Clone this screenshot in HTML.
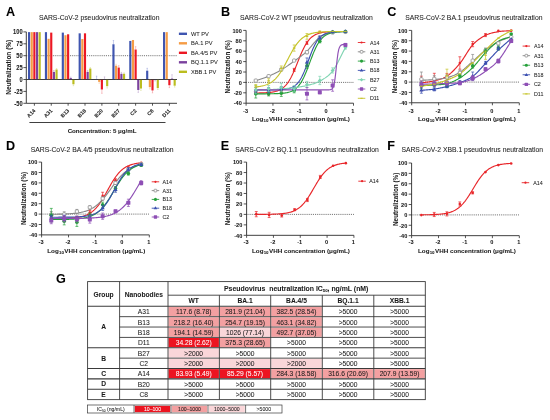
<!DOCTYPE html>
<html><head><meta charset="utf-8"><style>
html,body{margin:0;padding:0;background:#fff;width:550px;height:420px;overflow:hidden}
svg{display:block;filter:blur(0.4px)}
text{font-family:"Liberation Sans", sans-serif;stroke:#1a1a1a;stroke-width:0.05px}
text[font-weight="bold"]{stroke-width:0.05px}
text[fill="#fff"]{stroke:#fff}
text[fill="#000"]{stroke:#000}
</style></head><body>
<svg width="550" height="420" viewBox="0 0 550 420">
<rect width="550" height="420" fill="#fff"/>
<text x="6.00" y="16.40" font-size="12.6" text-anchor="start" font-weight="bold" fill="#000" >A</text>
<text x="220.90" y="16.30" font-size="12.6" text-anchor="start" font-weight="bold" fill="#000" >B</text>
<text x="387.20" y="16.40" font-size="12.6" text-anchor="start" font-weight="bold" fill="#000" >C</text>
<text x="5.90" y="149.50" font-size="12.6" text-anchor="start" font-weight="bold" fill="#000" >D</text>
<text x="220.80" y="149.50" font-size="12.6" text-anchor="start" font-weight="bold" fill="#000" >E</text>
<text x="387.30" y="149.50" font-size="12.6" text-anchor="start" font-weight="bold" fill="#000" >F</text>
<text x="56.00" y="282.60" font-size="12.6" text-anchor="start" font-weight="bold" fill="#000" >G</text>
<text x="38.90" y="19.60" font-size="6.8" text-anchor="start" font-weight="normal" fill="#1a1a1a" >SARS-CoV-2 pseudovirus neutralization</text>
<line x1="26.30" y1="31.90" x2="26.30" y2="103.30" stroke="#2a2a2a" stroke-width="0.9" />
<line x1="23.40" y1="31.90" x2="26.30" y2="31.90" stroke="#2a2a2a" stroke-width="0.8" />
<text transform="translate(22.60,34.15) scale(1,1.12)" font-size="5.7" text-anchor="end" font-weight="bold" fill="#1a1a1a" >100</text>
<line x1="23.40" y1="43.80" x2="26.30" y2="43.80" stroke="#2a2a2a" stroke-width="0.8" />
<text transform="translate(22.60,46.05) scale(1,1.12)" font-size="5.7" text-anchor="end" font-weight="bold" fill="#1a1a1a" >75</text>
<line x1="23.40" y1="55.70" x2="26.30" y2="55.70" stroke="#2a2a2a" stroke-width="0.8" />
<text transform="translate(22.60,57.95) scale(1,1.12)" font-size="5.7" text-anchor="end" font-weight="bold" fill="#1a1a1a" >50</text>
<line x1="23.40" y1="67.60" x2="26.30" y2="67.60" stroke="#2a2a2a" stroke-width="0.8" />
<text transform="translate(22.60,69.85) scale(1,1.12)" font-size="5.7" text-anchor="end" font-weight="bold" fill="#1a1a1a" >25</text>
<line x1="23.40" y1="79.50" x2="26.30" y2="79.50" stroke="#2a2a2a" stroke-width="0.8" />
<text transform="translate(22.60,81.75) scale(1,1.12)" font-size="5.7" text-anchor="end" font-weight="bold" fill="#1a1a1a" >0</text>
<line x1="23.40" y1="91.40" x2="26.30" y2="91.40" stroke="#2a2a2a" stroke-width="0.8" />
<text transform="translate(22.60,93.65) scale(1,1.12)" font-size="5.7" text-anchor="end" font-weight="bold" fill="#1a1a1a" >-25</text>
<line x1="23.40" y1="103.30" x2="26.30" y2="103.30" stroke="#2a2a2a" stroke-width="0.8" />
<text transform="translate(22.60,105.55) scale(1,1.12)" font-size="5.7" text-anchor="end" font-weight="bold" fill="#1a1a1a" >-50</text>
<line x1="26.30" y1="103.30" x2="177.00" y2="103.30" stroke="#2a2a2a" stroke-width="0.9" />
<line x1="26.30" y1="79.50" x2="177.00" y2="79.50" stroke="#2a2a2a" stroke-width="0.8" />
<line x1="26.30" y1="55.70" x2="177.00" y2="55.70" stroke="#333" stroke-width="0.75" stroke-dasharray="0.9 1.0"/>
<line x1="34.38" y1="103.30" x2="34.38" y2="105.70" stroke="#2a2a2a" stroke-width="0.8" />
<text transform="translate(35.88,111.10) rotate(-45)" font-size="5.3" font-weight="bold" text-anchor="end" fill="#1a1a1a">A14</text>
<rect x="28.00" y="32.14" width="2.15" height="47.36" fill="#3f55b0" />
<rect x="30.65" y="32.14" width="2.15" height="47.36" fill="#f59c45" />
<rect x="33.30" y="32.14" width="2.15" height="47.36" fill="#ec1823" />
<rect x="35.95" y="32.14" width="2.15" height="47.36" fill="#7b419e" />
<rect x="38.60" y="32.14" width="2.15" height="47.36" fill="#bbbd1f" />
<line x1="51.25" y1="103.30" x2="51.25" y2="105.70" stroke="#2a2a2a" stroke-width="0.8" />
<text transform="translate(52.75,111.10) rotate(-45)" font-size="5.3" font-weight="bold" text-anchor="end" fill="#1a1a1a">A31</text>
<rect x="44.88" y="32.14" width="2.15" height="47.36" fill="#3f55b0" />
<rect x="47.52" y="38.80" width="2.15" height="40.70" fill="#f59c45" />
<rect x="50.17" y="32.61" width="2.15" height="46.89" fill="#ec1823" />
<line x1="53.90" y1="71.88" x2="53.90" y2="70.46" stroke="#b79ac9" stroke-width="0.5" />
<line x1="53.20" y1="70.46" x2="54.60" y2="70.46" stroke="#b79ac9" stroke-width="0.5" />
<rect x="52.83" y="71.88" width="2.15" height="7.62" fill="#7b419e" />
<line x1="56.55" y1="69.50" x2="56.55" y2="68.55" stroke="#d6da8e" stroke-width="0.5" />
<line x1="55.85" y1="68.55" x2="57.25" y2="68.55" stroke="#d6da8e" stroke-width="0.5" />
<rect x="55.48" y="69.50" width="2.15" height="10.00" fill="#bbbd1f" />
<line x1="68.12" y1="103.30" x2="68.12" y2="105.70" stroke="#2a2a2a" stroke-width="0.8" />
<text transform="translate(69.62,111.10) rotate(-45)" font-size="5.3" font-weight="bold" text-anchor="end" fill="#1a1a1a">B13</text>
<rect x="61.75" y="32.61" width="2.15" height="46.89" fill="#3f55b0" />
<rect x="64.40" y="35.23" width="2.15" height="44.27" fill="#f59c45" />
<rect x="67.05" y="34.28" width="2.15" height="45.22" fill="#ec1823" />
<line x1="70.78" y1="78.07" x2="70.78" y2="77.12" stroke="#b79ac9" stroke-width="0.5" />
<line x1="70.08" y1="77.12" x2="71.48" y2="77.12" stroke="#b79ac9" stroke-width="0.5" />
<rect x="69.70" y="78.07" width="2.15" height="1.43" fill="#7b419e" />
<line x1="73.42" y1="84.26" x2="73.42" y2="85.69" stroke="#d6da8e" stroke-width="0.5" />
<line x1="72.72" y1="85.69" x2="74.12" y2="85.69" stroke="#d6da8e" stroke-width="0.5" />
<rect x="72.35" y="79.50" width="2.15" height="4.76" fill="#bbbd1f" />
<line x1="85.00" y1="103.30" x2="85.00" y2="105.70" stroke="#2a2a2a" stroke-width="0.8" />
<text transform="translate(86.50,111.10) rotate(-45)" font-size="5.3" font-weight="bold" text-anchor="end" fill="#1a1a1a">B18</text>
<rect x="78.62" y="33.33" width="2.15" height="46.17" fill="#3f55b0" />
<rect x="81.28" y="39.04" width="2.15" height="40.46" fill="#f59c45" />
<rect x="83.92" y="33.33" width="2.15" height="46.17" fill="#ec1823" />
<line x1="87.65" y1="71.88" x2="87.65" y2="70.46" stroke="#b79ac9" stroke-width="0.5" />
<line x1="86.95" y1="70.46" x2="88.35" y2="70.46" stroke="#b79ac9" stroke-width="0.5" />
<rect x="86.58" y="71.88" width="2.15" height="7.62" fill="#7b419e" />
<line x1="90.30" y1="68.55" x2="90.30" y2="67.60" stroke="#d6da8e" stroke-width="0.5" />
<line x1="89.60" y1="67.60" x2="91.00" y2="67.60" stroke="#d6da8e" stroke-width="0.5" />
<rect x="89.22" y="68.55" width="2.15" height="10.95" fill="#bbbd1f" />
<line x1="101.88" y1="103.30" x2="101.88" y2="105.70" stroke="#2a2a2a" stroke-width="0.8" />
<text transform="translate(103.38,111.10) rotate(-45)" font-size="5.3" font-weight="bold" text-anchor="end" fill="#1a1a1a">B20</text>
<line x1="96.58" y1="79.02" x2="96.58" y2="76.17" stroke="#8f9bd6" stroke-width="0.5" />
<line x1="95.88" y1="76.17" x2="97.28" y2="76.17" stroke="#8f9bd6" stroke-width="0.5" />
<rect x="95.50" y="79.02" width="2.15" height="0.48" fill="#3f55b0" />
<line x1="99.23" y1="81.88" x2="99.23" y2="83.31" stroke="#f8c89a" stroke-width="0.5" />
<line x1="98.53" y1="83.31" x2="99.93" y2="83.31" stroke="#f8c89a" stroke-width="0.5" />
<rect x="98.15" y="79.50" width="2.15" height="2.38" fill="#f59c45" />
<line x1="101.88" y1="89.50" x2="101.88" y2="93.30" stroke="#f08a90" stroke-width="0.5" />
<line x1="101.17" y1="93.30" x2="102.58" y2="93.30" stroke="#f08a90" stroke-width="0.5" />
<rect x="100.80" y="79.50" width="2.15" height="10.00" fill="#ec1823" />
<line x1="104.53" y1="79.26" x2="104.53" y2="76.88" stroke="#b79ac9" stroke-width="0.5" />
<line x1="103.83" y1="76.88" x2="105.23" y2="76.88" stroke="#b79ac9" stroke-width="0.5" />
<rect x="103.45" y="79.26" width="2.15" height="0.24" fill="#7b419e" />
<line x1="107.17" y1="86.16" x2="107.17" y2="88.07" stroke="#d6da8e" stroke-width="0.5" />
<line x1="106.47" y1="88.07" x2="107.88" y2="88.07" stroke="#d6da8e" stroke-width="0.5" />
<rect x="106.10" y="79.50" width="2.15" height="6.66" fill="#bbbd1f" />
<line x1="118.75" y1="103.30" x2="118.75" y2="105.70" stroke="#2a2a2a" stroke-width="0.8" />
<text transform="translate(120.25,111.10) rotate(-45)" font-size="5.3" font-weight="bold" text-anchor="end" fill="#1a1a1a">B27</text>
<line x1="113.45" y1="44.28" x2="113.45" y2="40.47" stroke="#8f9bd6" stroke-width="0.5" />
<line x1="112.75" y1="40.47" x2="114.15" y2="40.47" stroke="#8f9bd6" stroke-width="0.5" />
<rect x="112.38" y="44.28" width="2.15" height="35.22" fill="#3f55b0" />
<line x1="116.10" y1="65.70" x2="116.10" y2="64.27" stroke="#f8c89a" stroke-width="0.5" />
<line x1="115.40" y1="64.27" x2="116.80" y2="64.27" stroke="#f8c89a" stroke-width="0.5" />
<rect x="115.03" y="65.70" width="2.15" height="13.80" fill="#f59c45" />
<line x1="118.75" y1="67.60" x2="118.75" y2="65.70" stroke="#f08a90" stroke-width="0.5" />
<line x1="118.05" y1="65.70" x2="119.45" y2="65.70" stroke="#f08a90" stroke-width="0.5" />
<rect x="117.67" y="67.60" width="2.15" height="11.90" fill="#ec1823" />
<line x1="121.40" y1="73.79" x2="121.40" y2="72.36" stroke="#b79ac9" stroke-width="0.5" />
<line x1="120.70" y1="72.36" x2="122.10" y2="72.36" stroke="#b79ac9" stroke-width="0.5" />
<rect x="120.33" y="73.79" width="2.15" height="5.71" fill="#7b419e" />
<line x1="124.05" y1="73.79" x2="124.05" y2="72.84" stroke="#d6da8e" stroke-width="0.5" />
<line x1="123.35" y1="72.84" x2="124.75" y2="72.84" stroke="#d6da8e" stroke-width="0.5" />
<rect x="122.97" y="73.79" width="2.15" height="5.71" fill="#bbbd1f" />
<line x1="135.62" y1="103.30" x2="135.62" y2="105.70" stroke="#2a2a2a" stroke-width="0.8" />
<text transform="translate(137.12,111.10) rotate(-45)" font-size="5.3" font-weight="bold" text-anchor="end" fill="#1a1a1a">C2</text>
<rect x="129.25" y="40.94" width="2.15" height="38.56" fill="#3f55b0" />
<rect x="131.90" y="39.99" width="2.15" height="39.51" fill="#f59c45" />
<line x1="135.62" y1="49.51" x2="135.62" y2="46.66" stroke="#f08a90" stroke-width="0.5" />
<line x1="134.93" y1="46.66" x2="136.32" y2="46.66" stroke="#f08a90" stroke-width="0.5" />
<rect x="134.55" y="49.51" width="2.15" height="29.99" fill="#ec1823" />
<line x1="138.27" y1="89.97" x2="138.27" y2="92.35" stroke="#b79ac9" stroke-width="0.5" />
<line x1="137.57" y1="92.35" x2="138.97" y2="92.35" stroke="#b79ac9" stroke-width="0.5" />
<rect x="137.20" y="79.50" width="2.15" height="10.47" fill="#7b419e" />
<line x1="140.92" y1="88.54" x2="140.92" y2="90.45" stroke="#d6da8e" stroke-width="0.5" />
<line x1="140.22" y1="90.45" x2="141.62" y2="90.45" stroke="#d6da8e" stroke-width="0.5" />
<rect x="139.85" y="79.50" width="2.15" height="9.04" fill="#bbbd1f" />
<line x1="152.50" y1="103.30" x2="152.50" y2="105.70" stroke="#2a2a2a" stroke-width="0.8" />
<text transform="translate(154.00,111.10) rotate(-45)" font-size="5.3" font-weight="bold" text-anchor="end" fill="#1a1a1a">C8</text>
<line x1="147.20" y1="70.69" x2="147.20" y2="68.31" stroke="#8f9bd6" stroke-width="0.5" />
<line x1="146.50" y1="68.31" x2="147.90" y2="68.31" stroke="#8f9bd6" stroke-width="0.5" />
<rect x="146.12" y="70.69" width="2.15" height="8.81" fill="#3f55b0" />
<line x1="149.85" y1="87.12" x2="149.85" y2="89.02" stroke="#f8c89a" stroke-width="0.5" />
<line x1="149.15" y1="89.02" x2="150.55" y2="89.02" stroke="#f8c89a" stroke-width="0.5" />
<rect x="148.78" y="79.50" width="2.15" height="7.62" fill="#f59c45" />
<line x1="152.50" y1="90.45" x2="152.50" y2="92.83" stroke="#f08a90" stroke-width="0.5" />
<line x1="151.80" y1="92.83" x2="153.20" y2="92.83" stroke="#f08a90" stroke-width="0.5" />
<rect x="151.43" y="79.50" width="2.15" height="10.95" fill="#ec1823" />
<line x1="155.15" y1="79.98" x2="155.15" y2="80.93" stroke="#b79ac9" stroke-width="0.5" />
<line x1="154.45" y1="80.93" x2="155.85" y2="80.93" stroke="#b79ac9" stroke-width="0.5" />
<rect x="154.07" y="79.50" width="2.15" height="0.48" fill="#7b419e" />
<line x1="157.80" y1="88.07" x2="157.80" y2="89.50" stroke="#d6da8e" stroke-width="0.5" />
<line x1="157.10" y1="89.50" x2="158.50" y2="89.50" stroke="#d6da8e" stroke-width="0.5" />
<rect x="156.72" y="79.50" width="2.15" height="8.57" fill="#bbbd1f" />
<line x1="169.38" y1="103.30" x2="169.38" y2="105.70" stroke="#2a2a2a" stroke-width="0.8" />
<text transform="translate(170.88,111.10) rotate(-45)" font-size="5.3" font-weight="bold" text-anchor="end" fill="#1a1a1a">D11</text>
<rect x="163.00" y="32.14" width="2.15" height="47.36" fill="#3f55b0" />
<rect x="165.65" y="32.14" width="2.15" height="47.36" fill="#f59c45" />
<line x1="169.38" y1="85.21" x2="169.38" y2="87.59" stroke="#f08a90" stroke-width="0.5" />
<line x1="168.68" y1="87.59" x2="170.07" y2="87.59" stroke="#f08a90" stroke-width="0.5" />
<rect x="168.30" y="79.50" width="2.15" height="5.71" fill="#ec1823" />
<line x1="172.02" y1="78.55" x2="172.02" y2="74.74" stroke="#b79ac9" stroke-width="0.5" />
<line x1="171.32" y1="74.74" x2="172.72" y2="74.74" stroke="#b79ac9" stroke-width="0.5" />
<rect x="170.95" y="78.55" width="2.15" height="0.95" fill="#7b419e" />
<line x1="174.67" y1="85.69" x2="174.67" y2="87.12" stroke="#d6da8e" stroke-width="0.5" />
<line x1="173.97" y1="87.12" x2="175.37" y2="87.12" stroke="#d6da8e" stroke-width="0.5" />
<rect x="173.60" y="79.50" width="2.15" height="6.19" fill="#bbbd1f" />
<line x1="26.30" y1="79.50" x2="177.00" y2="79.50" stroke="#333" stroke-width="0.7" />
<line x1="29.40" y1="122.50" x2="165.50" y2="122.50" stroke="#2a2a2a" stroke-width="0.9" />
<text x="67.70" y="132.60" font-size="6.13" text-anchor="start" font-weight="bold" fill="#1a1a1a" >Concentration: 5 μg/mL</text>
<text transform="translate(11.3,67.2) rotate(-90)" font-size="6.5" font-weight="bold" text-anchor="middle" fill="#1a1a1a">Neutralization (%)</text>
<rect x="178.90" y="32.60" width="8.10" height="2.40" fill="#3f55b0" />
<text x="191.00" y="35.80" font-size="5.7" text-anchor="start" font-weight="normal" fill="#1a1a1a" >WT PV</text>
<rect x="178.90" y="42.10" width="8.10" height="2.40" fill="#f59c45" />
<text x="191.00" y="45.30" font-size="5.7" text-anchor="start" font-weight="normal" fill="#1a1a1a" >BA.1 PV</text>
<rect x="178.90" y="51.60" width="8.10" height="2.40" fill="#ec1823" />
<text x="191.00" y="54.80" font-size="5.7" text-anchor="start" font-weight="normal" fill="#1a1a1a" >BA.4/5 PV</text>
<rect x="178.90" y="61.10" width="8.10" height="2.40" fill="#7b419e" />
<text x="191.00" y="64.30" font-size="5.7" text-anchor="start" font-weight="normal" fill="#1a1a1a" >BQ.1.1 PV</text>
<rect x="178.90" y="70.60" width="8.10" height="2.40" fill="#bbbd1f" />
<text x="191.00" y="73.80" font-size="5.7" text-anchor="start" font-weight="normal" fill="#1a1a1a" >XBB.1 PV</text>
<text x="240.00" y="19.70" font-size="6.8" text-anchor="start" font-weight="normal" fill="#1a1a1a" >SARS-CoV-2 WT pseudovirus neutralization</text>
<line x1="246.10" y1="30.40" x2="246.10" y2="103.20" stroke="#2a2a2a" stroke-width="0.9" />
<line x1="243.20" y1="30.40" x2="246.10" y2="30.40" stroke="#2a2a2a" stroke-width="0.8" />
<text transform="translate(241.80,32.65) scale(1,1.12)" font-size="5.6" text-anchor="end" font-weight="bold" fill="#1a1a1a" >100</text>
<line x1="243.20" y1="40.80" x2="246.10" y2="40.80" stroke="#2a2a2a" stroke-width="0.8" />
<text transform="translate(241.80,43.05) scale(1,1.12)" font-size="5.6" text-anchor="end" font-weight="bold" fill="#1a1a1a" >80</text>
<line x1="243.20" y1="51.20" x2="246.10" y2="51.20" stroke="#2a2a2a" stroke-width="0.8" />
<text transform="translate(241.80,53.45) scale(1,1.12)" font-size="5.6" text-anchor="end" font-weight="bold" fill="#1a1a1a" >60</text>
<line x1="243.20" y1="61.60" x2="246.10" y2="61.60" stroke="#2a2a2a" stroke-width="0.8" />
<text transform="translate(241.80,63.85) scale(1,1.12)" font-size="5.6" text-anchor="end" font-weight="bold" fill="#1a1a1a" >40</text>
<line x1="243.20" y1="72.00" x2="246.10" y2="72.00" stroke="#2a2a2a" stroke-width="0.8" />
<text transform="translate(241.80,74.25) scale(1,1.12)" font-size="5.6" text-anchor="end" font-weight="bold" fill="#1a1a1a" >20</text>
<line x1="243.20" y1="82.40" x2="246.10" y2="82.40" stroke="#2a2a2a" stroke-width="0.8" />
<text transform="translate(241.80,84.65) scale(1,1.12)" font-size="5.6" text-anchor="end" font-weight="bold" fill="#1a1a1a" >0</text>
<line x1="243.20" y1="92.80" x2="246.10" y2="92.80" stroke="#2a2a2a" stroke-width="0.8" />
<text transform="translate(241.80,95.05) scale(1,1.12)" font-size="5.6" text-anchor="end" font-weight="bold" fill="#1a1a1a" >-20</text>
<line x1="243.20" y1="103.20" x2="246.10" y2="103.20" stroke="#2a2a2a" stroke-width="0.8" />
<text transform="translate(241.80,105.45) scale(1,1.12)" font-size="5.6" text-anchor="end" font-weight="bold" fill="#1a1a1a" >-40</text>
<line x1="246.10" y1="103.20" x2="353.50" y2="103.20" stroke="#2a2a2a" stroke-width="0.9" />
<line x1="246.10" y1="103.20" x2="246.10" y2="105.70" stroke="#2a2a2a" stroke-width="0.8" />
<text transform="translate(245.50,112.50) scale(1,1.12)" font-size="5.6" text-anchor="middle" font-weight="bold" fill="#1a1a1a" >-3</text>
<line x1="272.95" y1="103.20" x2="272.95" y2="105.70" stroke="#2a2a2a" stroke-width="0.8" />
<text transform="translate(272.35,112.50) scale(1,1.12)" font-size="5.6" text-anchor="middle" font-weight="bold" fill="#1a1a1a" >-2</text>
<line x1="299.80" y1="103.20" x2="299.80" y2="105.70" stroke="#2a2a2a" stroke-width="0.8" />
<text transform="translate(299.20,112.50) scale(1,1.12)" font-size="5.6" text-anchor="middle" font-weight="bold" fill="#1a1a1a" >-1</text>
<line x1="326.65" y1="103.20" x2="326.65" y2="105.70" stroke="#2a2a2a" stroke-width="0.8" />
<text transform="translate(326.05,112.50) scale(1,1.12)" font-size="5.6" text-anchor="middle" font-weight="bold" fill="#1a1a1a" >0</text>
<line x1="353.50" y1="103.20" x2="353.50" y2="105.70" stroke="#2a2a2a" stroke-width="0.8" />
<text transform="translate(352.90,112.50) scale(1,1.12)" font-size="5.6" text-anchor="middle" font-weight="bold" fill="#1a1a1a" >1</text>
<line x1="246.10" y1="82.40" x2="353.50" y2="82.40" stroke="#333" stroke-width="0.75" stroke-dasharray="0.9 1.0"/>
<text transform="translate(230.00,66.80) rotate(-90)" font-size="6.3" font-weight="bold" text-anchor="middle" fill="#1a1a1a">Neutralization (%)</text>
<text x="251.90" y="121.30" font-size="6.25" font-weight="bold" fill="#1a1a1a">Log<tspan font-size="4.4" dx="0.2" dy="0.9">10</tspan><tspan dx="0.5" dy="-0.9">VHH concentration (μg/mL)</tspan></text>
<polyline points="255.77,92.99 256.51,92.98 257.26,92.97 258.01,92.96 258.75,92.95 259.50,92.94 260.25,92.92 261.00,92.90 261.74,92.88 262.49,92.86 263.24,92.83 263.98,92.81 264.73,92.77 265.48,92.74 266.23,92.69 266.97,92.65 267.72,92.59 268.47,92.53 269.21,92.47 269.96,92.39 270.71,92.31 271.46,92.21 272.20,92.10 272.95,91.98 273.70,91.84 274.44,91.69 275.19,91.51 275.94,91.32 276.68,91.10 277.43,90.86 278.18,90.58 278.93,90.28 279.67,89.93 280.42,89.55 281.17,89.13 281.91,88.66 282.66,88.13 283.41,87.55 284.16,86.91 284.90,86.20 285.65,85.42 286.40,84.57 287.14,83.64 287.89,82.63 288.64,81.53 289.39,80.34 290.13,79.07 290.88,77.71 291.63,76.27 292.37,74.74 293.12,73.13 293.87,71.46 294.62,69.72 295.36,67.93 296.11,66.10 296.86,64.24 297.60,62.37 298.35,60.50 299.10,58.64 299.84,56.80 300.59,55.01 301.34,53.26 302.09,51.58 302.83,49.97 303.58,48.43 304.33,46.97 305.07,45.60 305.82,44.32 306.57,43.12 307.32,42.01 308.06,40.99 308.81,40.05 309.56,39.18 310.30,38.40 311.05,37.68 311.80,37.03 312.55,36.44 313.29,35.91 314.04,35.43 314.79,35.00 315.53,34.61 316.28,34.27 317.03,33.95 317.78,33.68 318.52,33.43 319.27,33.21 320.02,33.01 320.76,32.83 321.51,32.68 322.26,32.54 323.01,32.41 323.75,32.30 324.50,32.21 325.25,32.12 325.99,32.04 326.74,31.97 327.49,31.91 328.23,31.86 328.98,31.81 329.73,31.77 330.48,31.73 331.22,31.70 331.97,31.67 332.72,31.64 333.46,31.62 334.21,31.60 334.96,31.58 335.71,31.56 336.45,31.55 337.20,31.54 337.95,31.53 338.69,31.52 339.44,31.51 340.19,31.50 340.94,31.49 341.68,31.49 342.43,31.48 343.18,31.48 343.92,31.47 344.67,31.47 345.42,31.47" fill="none" stroke="#e8262a" stroke-width="1.15"/>
<polyline points="255.77,80.84 256.51,80.57 257.26,80.31 258.01,80.05 258.75,79.79 259.50,79.53 260.25,79.28 261.00,79.02 261.74,78.77 262.49,78.51 263.24,78.25 263.98,77.98 264.73,77.71 265.48,77.43 266.23,77.15 266.97,76.85 267.72,76.55 268.47,76.24 269.21,75.92 269.96,75.59 270.71,75.27 271.46,74.93 272.20,74.59 272.95,74.25 273.70,73.90 274.44,73.55 275.19,73.18 275.94,72.81 276.68,72.44 277.43,72.05 278.18,71.66 278.93,71.25 279.67,70.84 280.42,70.42 281.17,69.98 281.91,69.54 282.66,69.08 283.41,68.61 284.16,68.13 284.90,67.64 285.65,67.14 286.40,66.64 287.14,66.12 287.89,65.60 288.64,65.07 289.39,64.54 290.13,64.01 290.88,63.47 291.63,62.93 292.37,62.38 293.12,61.84 293.87,61.29 294.62,60.75 295.36,60.22 296.11,59.69 296.86,59.16 297.60,58.64 298.35,58.11 299.10,57.58 299.84,57.05 300.59,56.50 301.34,55.95 302.09,55.38 302.83,54.80 303.58,54.20 304.33,53.58 305.07,52.94 305.82,52.28 306.57,51.58 307.32,50.86 308.06,50.07 308.81,49.24 309.56,48.36 310.30,47.46 311.05,46.54 311.80,45.61 312.55,44.70 313.29,43.80 314.04,42.94 314.79,42.12 315.53,41.31 316.28,40.50 317.03,39.70 317.78,38.94 318.52,38.23 319.27,37.58 320.02,37.00 320.76,36.50 321.51,36.04 322.26,35.63 323.01,35.26 323.75,34.92 324.50,34.61 325.25,34.31 325.99,34.03 326.74,33.75 327.49,33.48 328.23,33.24 328.98,33.01 329.73,32.81 330.48,32.63 331.22,32.47 331.97,32.33 332.72,32.20 333.46,32.09 334.21,32.00 334.96,31.92 335.71,31.85 336.45,31.80 337.20,31.75 337.95,31.71 338.69,31.68 339.44,31.65 340.19,31.63 340.94,31.61 341.68,31.59 342.43,31.57 343.18,31.54 343.92,31.52 344.67,31.48 345.42,31.44" fill="none" stroke="#8a8a8a" stroke-width="1.15"/>
<polyline points="255.77,93.83 256.51,93.83 257.26,93.83 258.01,93.83 258.75,93.83 259.50,93.83 260.25,93.83 261.00,93.83 261.74,93.82 262.49,93.82 263.24,93.82 263.98,93.82 264.73,93.81 265.48,93.81 266.23,93.80 266.97,93.80 267.72,93.79 268.47,93.79 269.21,93.78 269.96,93.77 270.71,93.76 271.46,93.75 272.20,93.74 272.95,93.73 273.70,93.71 274.44,93.69 275.19,93.67 275.94,93.65 276.68,93.63 277.43,93.60 278.18,93.56 278.93,93.53 279.67,93.48 280.42,93.43 281.17,93.38 281.91,93.32 282.66,93.25 283.41,93.16 284.16,93.07 284.90,92.97 285.65,92.85 286.40,92.72 287.14,92.57 287.89,92.40 288.64,92.21 289.39,91.99 290.13,91.75 290.88,91.47 291.63,91.16 292.37,90.82 293.12,90.43 293.87,89.99 294.62,89.50 295.36,88.95 296.11,88.34 296.86,87.66 297.60,86.91 298.35,86.08 299.10,85.17 299.84,84.17 300.59,83.08 301.34,81.89 302.09,80.60 302.83,79.21 303.58,77.73 304.33,76.15 305.07,74.48 305.82,72.73 306.57,70.91 307.32,69.02 308.06,67.08 308.81,65.11 309.56,63.11 310.30,61.12 311.05,59.13 311.80,57.17 312.55,55.26 313.29,53.40 314.04,51.62 314.79,49.91 315.53,48.29 316.28,46.76 317.03,45.33 317.78,43.99 318.52,42.76 319.27,41.62 320.02,40.57 320.76,39.62 321.51,38.75 322.26,37.96 323.01,37.25 323.75,36.61 324.50,36.03 325.25,35.52 325.99,35.06 326.74,34.64 327.49,34.28 328.23,33.95 328.98,33.66 329.73,33.40 330.48,33.17 331.22,32.97 331.97,32.79 332.72,32.63 333.46,32.49 334.21,32.36 334.96,32.25 335.71,32.16 336.45,32.07 337.20,32.00 337.95,31.93 338.69,31.87 339.44,31.82 340.19,31.77 340.94,31.73 341.68,31.70 342.43,31.67 343.18,31.64 343.92,31.62 344.67,31.60 345.42,31.58" fill="none" stroke="#25a03a" stroke-width="1.15"/>
<polyline points="255.77,89.94 256.51,89.94 257.26,89.94 258.01,89.94 258.75,89.93 259.50,89.93 260.25,89.93 261.00,89.93 261.74,89.93 262.49,89.93 263.24,89.93 263.98,89.93 264.73,89.92 265.48,89.92 266.23,89.92 266.97,89.92 267.72,89.91 268.47,89.91 269.21,89.90 269.96,89.90 270.71,89.89 271.46,89.89 272.20,89.88 272.95,89.87 273.70,89.86 274.44,89.84 275.19,89.83 275.94,89.81 276.68,89.79 277.43,89.77 278.18,89.74 278.93,89.72 279.67,89.68 280.42,89.64 281.17,89.60 281.91,89.55 282.66,89.49 283.41,89.42 284.16,89.34 284.90,89.25 285.65,89.15 286.40,89.03 287.14,88.90 287.89,88.74 288.64,88.57 289.39,88.36 290.13,88.13 290.88,87.87 291.63,87.57 292.37,87.22 293.12,86.83 293.87,86.39 294.62,85.89 295.36,85.33 296.11,84.69 296.86,83.98 297.60,83.18 298.35,82.29 299.10,81.30 299.84,80.22 300.59,79.02 301.34,77.71 302.09,76.29 302.83,74.76 303.58,73.12 304.33,71.39 305.07,69.56 305.82,67.65 306.57,65.67 307.32,63.65 308.06,61.60 308.81,59.54 309.56,57.49 310.30,55.47 311.05,53.50 311.80,51.60 312.55,49.78 313.29,48.06 314.04,46.43 314.79,44.91 315.53,43.51 316.28,42.21 317.03,41.03 317.78,39.95 318.52,38.98 319.27,38.10 320.02,37.31 320.76,36.61 321.51,35.98 322.26,35.42 323.01,34.93 323.75,34.50 324.50,34.11 325.25,33.78 325.99,33.48 326.74,33.22 327.49,32.99 328.23,32.79 328.98,32.62 329.73,32.47 330.48,32.33 331.22,32.22 331.97,32.12 332.72,32.03 333.46,31.95 334.21,31.88 334.96,31.83 335.71,31.78 336.45,31.73 337.20,31.69 337.95,31.66 338.69,31.63 339.44,31.61 340.19,31.58 340.94,31.57 341.68,31.55 342.43,31.53 343.18,31.52 343.92,31.51 344.67,31.50 345.42,31.49" fill="none" stroke="#3a4fb0" stroke-width="1.15"/>
<polyline points="255.77,90.20 256.51,90.17 257.26,90.14 258.01,90.11 258.75,90.09 259.50,90.06 260.25,90.03 261.00,90.00 261.74,89.97 262.49,89.95 263.24,89.92 263.98,89.89 264.73,89.86 265.48,89.83 266.23,89.80 266.97,89.76 267.72,89.73 268.47,89.69 269.21,89.65 269.96,89.61 270.71,89.57 271.46,89.53 272.20,89.49 272.95,89.45 273.70,89.41 274.44,89.37 275.19,89.32 275.94,89.28 276.68,89.23 277.43,89.18 278.18,89.13 278.93,89.08 279.67,89.02 280.42,88.97 281.17,88.91 281.91,88.85 282.66,88.79 283.41,88.72 284.16,88.66 284.90,88.59 285.65,88.53 286.40,88.46 287.14,88.39 287.89,88.31 288.64,88.24 289.39,88.16 290.13,88.08 290.88,88.00 291.63,87.91 292.37,87.83 293.12,87.73 293.87,87.64 294.62,87.54 295.36,87.44 296.11,87.35 296.86,87.25 297.60,87.16 298.35,87.06 299.10,86.96 299.84,86.86 300.59,86.75 301.34,86.64 302.09,86.52 302.83,86.39 303.58,86.26 304.33,86.11 305.07,85.96 305.82,85.80 306.57,85.62 307.32,85.43 308.06,85.25 308.81,85.06 309.56,84.87 310.30,84.68 311.05,84.48 311.80,84.28 312.55,84.07 313.29,83.84 314.04,83.61 314.79,83.35 315.53,83.08 316.28,82.79 317.03,82.48 317.78,82.14 318.52,81.78 319.27,81.40 320.02,80.98 320.76,80.56 321.51,80.14 322.26,79.71 323.01,79.28 323.75,78.83 324.50,78.37 325.25,77.88 325.99,77.37 326.74,76.83 327.49,76.25 328.23,75.63 328.98,74.96 329.73,74.25 330.48,73.48 331.22,72.66 331.97,71.77 332.72,70.82 333.46,69.79 334.21,68.67 334.96,67.48 335.71,66.23 336.45,64.91 337.20,63.55 337.95,62.15 338.69,60.71 339.44,59.25 340.19,57.77 340.94,56.28 341.68,54.78 342.43,53.30 343.18,51.82 343.92,50.37 344.67,48.95 345.42,47.56" fill="none" stroke="#7fd4b2" stroke-width="1.15"/>
<polyline points="255.77,89.94 256.51,89.94 257.26,89.94 258.01,89.94 258.75,89.94 259.50,89.94 260.25,89.94 261.00,89.94 261.74,89.94 262.49,89.94 263.24,89.94 263.98,89.94 264.73,89.94 265.48,89.94 266.23,89.94 266.97,89.94 267.72,89.94 268.47,89.94 269.21,89.94 269.96,89.94 270.71,89.94 271.46,89.94 272.20,89.94 272.95,89.94 273.70,89.94 274.44,89.94 275.19,89.94 275.94,89.94 276.68,89.94 277.43,89.94 278.18,89.94 278.93,89.94 279.67,89.94 280.42,89.94 281.17,89.94 281.91,89.94 282.66,89.94 283.41,89.94 284.16,89.94 284.90,89.94 285.65,89.94 286.40,89.94 287.14,89.94 287.89,89.94 288.64,89.94 289.39,89.94 290.13,89.94 290.88,89.94 291.63,89.94 292.37,89.94 293.12,89.94 293.87,89.94 294.62,89.94 295.36,89.94 296.11,89.94 296.86,89.94 297.60,89.94 298.35,89.94 299.10,89.94 299.84,89.94 300.59,89.94 301.34,89.94 302.09,89.94 302.83,89.94 303.58,89.94 304.33,89.94 305.07,89.94 305.82,89.94 306.57,89.94 307.32,89.94 308.06,89.94 308.81,89.94 309.56,89.94 310.30,89.94 311.05,89.94 311.80,89.94 312.55,89.94 313.29,89.94 314.04,89.94 314.79,89.94 315.53,89.94 316.28,89.94 317.03,89.94 317.78,89.94 318.52,89.94 319.27,89.94 320.02,89.94 320.76,89.94 321.51,89.94 322.26,89.94 323.01,89.94 323.75,89.94 324.50,89.94 325.25,89.94 325.99,89.93 326.74,89.93 327.49,89.92 328.23,89.90 328.98,89.86 329.73,89.78 330.48,89.64 331.22,89.37 331.97,88.87 332.72,87.95 333.46,86.31 334.21,83.51 334.96,79.11 335.71,73.01 336.45,65.86 337.20,58.96 337.95,53.45 338.69,49.68 339.44,47.36 340.19,46.03 340.94,45.29 341.68,44.89 342.43,44.68 343.18,44.57 343.92,44.51 344.67,44.48 345.42,44.46" fill="none" stroke="#8e4fb5" stroke-width="1.15"/>
<polyline points="255.77,86.91 256.51,86.83 257.26,86.75 258.01,86.66 258.75,86.56 259.50,86.45 260.25,86.33 261.00,86.20 261.74,86.05 262.49,85.89 263.24,85.71 263.98,85.52 264.73,85.30 265.48,85.06 266.23,84.80 266.97,84.52 267.72,84.21 268.47,83.86 269.21,83.49 269.96,83.08 270.71,82.64 271.46,82.15 272.20,81.63 272.95,81.06 273.70,80.44 274.44,79.78 275.19,79.06 275.94,78.29 276.68,77.47 277.43,76.59 278.18,75.66 278.93,74.66 279.67,73.61 280.42,72.51 281.17,71.35 281.91,70.14 282.66,68.89 283.41,67.59 284.16,66.25 284.90,64.88 285.65,63.48 286.40,62.06 287.14,60.62 287.89,59.19 288.64,57.75 289.39,56.32 290.13,54.91 290.88,53.52 291.63,52.16 292.37,50.84 293.12,49.56 293.87,48.33 294.62,47.14 295.36,46.01 296.11,44.93 296.86,43.91 297.60,42.94 298.35,42.03 299.10,41.18 299.84,40.38 300.59,39.64 301.34,38.95 302.09,38.30 302.83,37.71 303.58,37.16 304.33,36.66 305.07,36.19 305.82,35.76 306.57,35.37 307.32,35.01 308.06,34.68 308.81,34.39 309.56,34.11 310.30,33.86 311.05,33.64 311.80,33.43 312.55,33.24 313.29,33.07 314.04,32.92 314.79,32.78 315.53,32.65 316.28,32.53 317.03,32.43 317.78,32.33 318.52,32.25 319.27,32.17 320.02,32.10 320.76,32.04 321.51,31.98 322.26,31.93 323.01,31.88 323.75,31.84 324.50,31.80 325.25,31.76 325.99,31.73 326.74,31.70 327.49,31.68 328.23,31.66 328.98,31.63 329.73,31.62 330.48,31.60 331.22,31.58 331.97,31.57 332.72,31.56 333.46,31.55 334.21,31.54 334.96,31.53 335.71,31.52 336.45,31.51 337.20,31.50 337.95,31.50 338.69,31.49 339.44,31.49 340.19,31.48 340.94,31.48 341.68,31.47 342.43,31.47 343.18,31.47 343.92,31.47 344.67,31.46 345.42,31.46" fill="none" stroke="#c6c42a" stroke-width="1.15"/>
<line x1="255.77" y1="94.36" x2="255.77" y2="91.24" stroke="#e8262a" stroke-width="0.7" />
<line x1="254.32" y1="94.36" x2="257.22" y2="94.36" stroke="#e8262a" stroke-width="0.7" />
<line x1="254.32" y1="91.24" x2="257.22" y2="91.24" stroke="#e8262a" stroke-width="0.7" />
<circle cx="255.77" cy="92.80" r="1.30" fill="#e8262a"/>
<line x1="268.65" y1="94.88" x2="268.65" y2="91.76" stroke="#e8262a" stroke-width="0.7" />
<line x1="267.20" y1="94.88" x2="270.10" y2="94.88" stroke="#e8262a" stroke-width="0.7" />
<line x1="267.20" y1="91.76" x2="270.10" y2="91.76" stroke="#e8262a" stroke-width="0.7" />
<circle cx="268.65" cy="93.32" r="1.30" fill="#e8262a"/>
<line x1="281.27" y1="93.84" x2="281.27" y2="90.72" stroke="#e8262a" stroke-width="0.7" />
<line x1="279.82" y1="93.84" x2="282.72" y2="93.84" stroke="#e8262a" stroke-width="0.7" />
<line x1="279.82" y1="90.72" x2="282.72" y2="90.72" stroke="#e8262a" stroke-width="0.7" />
<circle cx="281.27" cy="92.28" r="1.30" fill="#e8262a"/>
<line x1="294.16" y1="71.48" x2="294.16" y2="68.36" stroke="#e8262a" stroke-width="0.7" />
<line x1="292.71" y1="71.48" x2="295.61" y2="71.48" stroke="#e8262a" stroke-width="0.7" />
<line x1="292.71" y1="68.36" x2="295.61" y2="68.36" stroke="#e8262a" stroke-width="0.7" />
<circle cx="294.16" cy="69.92" r="1.30" fill="#e8262a"/>
<line x1="306.97" y1="44.44" x2="306.97" y2="41.32" stroke="#e8262a" stroke-width="0.7" />
<line x1="305.52" y1="44.44" x2="308.42" y2="44.44" stroke="#e8262a" stroke-width="0.7" />
<line x1="305.52" y1="41.32" x2="308.42" y2="41.32" stroke="#e8262a" stroke-width="0.7" />
<circle cx="306.97" cy="42.88" r="1.30" fill="#e8262a"/>
<circle cx="319.80" cy="31.96" r="1.30" fill="#e8262a"/>
<circle cx="332.61" cy="31.96" r="1.30" fill="#e8262a"/>
<circle cx="345.42" cy="31.44" r="1.30" fill="#e8262a"/>
<rect x="254.17" y="78.98" width="3.20" height="3.20" rx="0.80" fill="#fff" stroke="#8a8a8a" stroke-width="0.8"/>
<rect x="267.05" y="74.56" width="3.20" height="3.20" rx="0.80" fill="#fff" stroke="#8a8a8a" stroke-width="0.8"/>
<rect x="279.67" y="67.80" width="3.20" height="3.20" rx="0.80" fill="#fff" stroke="#8a8a8a" stroke-width="0.8"/>
<rect x="292.56" y="58.96" width="3.20" height="3.20" rx="0.80" fill="#fff" stroke="#8a8a8a" stroke-width="0.8"/>
<line x1="306.97" y1="53.80" x2="306.97" y2="50.68" stroke="#8a8a8a" stroke-width="0.7" />
<line x1="305.52" y1="53.80" x2="308.42" y2="53.80" stroke="#8a8a8a" stroke-width="0.7" />
<line x1="305.52" y1="50.68" x2="308.42" y2="50.68" stroke="#8a8a8a" stroke-width="0.7" />
<rect x="305.37" y="50.64" width="3.20" height="3.20" rx="0.80" fill="#fff" stroke="#8a8a8a" stroke-width="0.8"/>
<line x1="319.80" y1="39.24" x2="319.80" y2="36.12" stroke="#8a8a8a" stroke-width="0.7" />
<line x1="318.35" y1="39.24" x2="321.25" y2="39.24" stroke="#8a8a8a" stroke-width="0.7" />
<line x1="318.35" y1="36.12" x2="321.25" y2="36.12" stroke="#8a8a8a" stroke-width="0.7" />
<rect x="318.20" y="36.08" width="3.20" height="3.20" rx="0.80" fill="#fff" stroke="#8a8a8a" stroke-width="0.8"/>
<rect x="331.01" y="30.88" width="3.20" height="3.20" rx="0.80" fill="#fff" stroke="#8a8a8a" stroke-width="0.8"/>
<rect x="343.82" y="30.36" width="3.20" height="3.20" rx="0.80" fill="#fff" stroke="#8a8a8a" stroke-width="0.8"/>
<line x1="255.77" y1="98.00" x2="255.77" y2="89.68" stroke="#25a03a" stroke-width="0.7" />
<line x1="254.32" y1="98.00" x2="257.22" y2="98.00" stroke="#25a03a" stroke-width="0.7" />
<line x1="254.32" y1="89.68" x2="257.22" y2="89.68" stroke="#25a03a" stroke-width="0.7" />
<circle cx="255.77" cy="93.84" r="1.80" fill="#25a03a"/>
<line x1="268.65" y1="95.92" x2="268.65" y2="91.76" stroke="#25a03a" stroke-width="0.7" />
<line x1="267.20" y1="95.92" x2="270.10" y2="95.92" stroke="#25a03a" stroke-width="0.7" />
<line x1="267.20" y1="91.76" x2="270.10" y2="91.76" stroke="#25a03a" stroke-width="0.7" />
<circle cx="268.65" cy="93.84" r="1.80" fill="#25a03a"/>
<line x1="281.27" y1="96.44" x2="281.27" y2="90.20" stroke="#25a03a" stroke-width="0.7" />
<line x1="279.82" y1="96.44" x2="282.72" y2="96.44" stroke="#25a03a" stroke-width="0.7" />
<line x1="279.82" y1="90.20" x2="282.72" y2="90.20" stroke="#25a03a" stroke-width="0.7" />
<circle cx="281.27" cy="93.32" r="1.80" fill="#25a03a"/>
<line x1="294.16" y1="92.80" x2="294.16" y2="88.64" stroke="#25a03a" stroke-width="0.7" />
<line x1="292.71" y1="92.80" x2="295.61" y2="92.80" stroke="#25a03a" stroke-width="0.7" />
<line x1="292.71" y1="88.64" x2="295.61" y2="88.64" stroke="#25a03a" stroke-width="0.7" />
<circle cx="294.16" cy="90.72" r="1.80" fill="#25a03a"/>
<line x1="306.97" y1="68.36" x2="306.97" y2="63.16" stroke="#25a03a" stroke-width="0.7" />
<line x1="305.52" y1="68.36" x2="308.42" y2="68.36" stroke="#25a03a" stroke-width="0.7" />
<line x1="305.52" y1="63.16" x2="308.42" y2="63.16" stroke="#25a03a" stroke-width="0.7" />
<circle cx="306.97" cy="65.76" r="1.80" fill="#25a03a"/>
<line x1="319.80" y1="42.88" x2="319.80" y2="39.76" stroke="#25a03a" stroke-width="0.7" />
<line x1="318.35" y1="42.88" x2="321.25" y2="42.88" stroke="#25a03a" stroke-width="0.7" />
<line x1="318.35" y1="39.76" x2="321.25" y2="39.76" stroke="#25a03a" stroke-width="0.7" />
<circle cx="319.80" cy="41.32" r="1.80" fill="#25a03a"/>
<circle cx="332.61" cy="31.96" r="1.80" fill="#25a03a"/>
<circle cx="345.42" cy="31.44" r="1.80" fill="#25a03a"/>
<line x1="255.77" y1="92.80" x2="255.77" y2="87.60" stroke="#3a4fb0" stroke-width="0.7" />
<line x1="254.32" y1="92.80" x2="257.22" y2="92.80" stroke="#3a4fb0" stroke-width="0.7" />
<line x1="254.32" y1="87.60" x2="257.22" y2="87.60" stroke="#3a4fb0" stroke-width="0.7" />
<path d="M255.77,88.00 L257.86,91.52 L253.68,91.52Z" fill="#3a4fb0"/>
<line x1="268.65" y1="92.80" x2="268.65" y2="87.60" stroke="#3a4fb0" stroke-width="0.7" />
<line x1="267.20" y1="92.80" x2="270.10" y2="92.80" stroke="#3a4fb0" stroke-width="0.7" />
<line x1="267.20" y1="87.60" x2="270.10" y2="87.60" stroke="#3a4fb0" stroke-width="0.7" />
<path d="M268.65,88.00 L270.74,91.52 L266.56,91.52Z" fill="#3a4fb0"/>
<line x1="281.27" y1="90.72" x2="281.27" y2="86.56" stroke="#3a4fb0" stroke-width="0.7" />
<line x1="279.82" y1="90.72" x2="282.72" y2="90.72" stroke="#3a4fb0" stroke-width="0.7" />
<line x1="279.82" y1="86.56" x2="282.72" y2="86.56" stroke="#3a4fb0" stroke-width="0.7" />
<path d="M281.27,86.44 L283.36,89.96 L279.18,89.96Z" fill="#3a4fb0"/>
<line x1="294.16" y1="89.68" x2="294.16" y2="86.56" stroke="#3a4fb0" stroke-width="0.7" />
<line x1="292.71" y1="89.68" x2="295.61" y2="89.68" stroke="#3a4fb0" stroke-width="0.7" />
<line x1="292.71" y1="86.56" x2="295.61" y2="86.56" stroke="#3a4fb0" stroke-width="0.7" />
<path d="M294.16,85.92 L296.25,89.44 L292.07,89.44Z" fill="#3a4fb0"/>
<line x1="306.97" y1="66.28" x2="306.97" y2="57.96" stroke="#3a4fb0" stroke-width="0.7" />
<line x1="305.52" y1="66.28" x2="308.42" y2="66.28" stroke="#3a4fb0" stroke-width="0.7" />
<line x1="305.52" y1="57.96" x2="308.42" y2="57.96" stroke="#3a4fb0" stroke-width="0.7" />
<path d="M306.97,59.92 L309.06,63.44 L304.88,63.44Z" fill="#3a4fb0"/>
<line x1="319.80" y1="39.24" x2="319.80" y2="36.12" stroke="#3a4fb0" stroke-width="0.7" />
<line x1="318.35" y1="39.24" x2="321.25" y2="39.24" stroke="#3a4fb0" stroke-width="0.7" />
<line x1="318.35" y1="36.12" x2="321.25" y2="36.12" stroke="#3a4fb0" stroke-width="0.7" />
<path d="M319.80,35.48 L321.89,39.00 L317.71,39.00Z" fill="#3a4fb0"/>
<path d="M332.61,29.76 L334.70,33.28 L330.52,33.28Z" fill="#3a4fb0"/>
<path d="M345.42,29.24 L347.51,32.76 L343.33,32.76Z" fill="#3a4fb0"/>
<line x1="255.77" y1="93.84" x2="255.77" y2="85.52" stroke="#7fd4b2" stroke-width="0.7" />
<line x1="254.32" y1="93.84" x2="257.22" y2="93.84" stroke="#7fd4b2" stroke-width="0.7" />
<line x1="254.32" y1="85.52" x2="257.22" y2="85.52" stroke="#7fd4b2" stroke-width="0.7" />
<path d="M255.77,87.68 L257.77,89.68 L255.77,91.68 L253.77,89.68Z" fill="#7fd4b2"/>
<line x1="268.65" y1="91.76" x2="268.65" y2="85.52" stroke="#7fd4b2" stroke-width="0.7" />
<line x1="267.20" y1="91.76" x2="270.10" y2="91.76" stroke="#7fd4b2" stroke-width="0.7" />
<line x1="267.20" y1="85.52" x2="270.10" y2="85.52" stroke="#7fd4b2" stroke-width="0.7" />
<path d="M268.65,86.64 L270.65,88.64 L268.65,90.64 L266.65,88.64Z" fill="#7fd4b2"/>
<line x1="281.27" y1="91.76" x2="281.27" y2="83.44" stroke="#7fd4b2" stroke-width="0.7" />
<line x1="279.82" y1="91.76" x2="282.72" y2="91.76" stroke="#7fd4b2" stroke-width="0.7" />
<line x1="279.82" y1="83.44" x2="282.72" y2="83.44" stroke="#7fd4b2" stroke-width="0.7" />
<path d="M281.27,85.60 L283.27,87.60 L281.27,89.60 L279.27,87.60Z" fill="#7fd4b2"/>
<line x1="294.16" y1="91.76" x2="294.16" y2="85.52" stroke="#7fd4b2" stroke-width="0.7" />
<line x1="292.71" y1="91.76" x2="295.61" y2="91.76" stroke="#7fd4b2" stroke-width="0.7" />
<line x1="292.71" y1="85.52" x2="295.61" y2="85.52" stroke="#7fd4b2" stroke-width="0.7" />
<path d="M294.16,86.64 L296.16,88.64 L294.16,90.64 L292.16,88.64Z" fill="#7fd4b2"/>
<line x1="306.97" y1="87.60" x2="306.97" y2="81.36" stroke="#7fd4b2" stroke-width="0.7" />
<line x1="305.52" y1="87.60" x2="308.42" y2="87.60" stroke="#7fd4b2" stroke-width="0.7" />
<line x1="305.52" y1="81.36" x2="308.42" y2="81.36" stroke="#7fd4b2" stroke-width="0.7" />
<path d="M306.97,82.48 L308.97,84.48 L306.97,86.48 L304.97,84.48Z" fill="#7fd4b2"/>
<line x1="319.80" y1="84.64" x2="319.80" y2="76.32" stroke="#7fd4b2" stroke-width="0.7" />
<line x1="318.35" y1="84.64" x2="321.25" y2="84.64" stroke="#7fd4b2" stroke-width="0.7" />
<line x1="318.35" y1="76.32" x2="321.25" y2="76.32" stroke="#7fd4b2" stroke-width="0.7" />
<path d="M319.80,78.48 L321.80,80.48 L319.80,82.48 L317.80,80.48Z" fill="#7fd4b2"/>
<line x1="332.61" y1="73.04" x2="332.61" y2="67.84" stroke="#7fd4b2" stroke-width="0.7" />
<line x1="331.16" y1="73.04" x2="334.06" y2="73.04" stroke="#7fd4b2" stroke-width="0.7" />
<line x1="331.16" y1="67.84" x2="334.06" y2="67.84" stroke="#7fd4b2" stroke-width="0.7" />
<path d="M332.61,68.44 L334.61,70.44 L332.61,72.44 L330.61,70.44Z" fill="#7fd4b2"/>
<line x1="345.42" y1="49.12" x2="345.42" y2="46.00" stroke="#7fd4b2" stroke-width="0.7" />
<line x1="343.97" y1="49.12" x2="346.87" y2="49.12" stroke="#7fd4b2" stroke-width="0.7" />
<line x1="343.97" y1="46.00" x2="346.87" y2="46.00" stroke="#7fd4b2" stroke-width="0.7" />
<path d="M345.42,45.56 L347.42,47.56 L345.42,49.56 L343.42,47.56Z" fill="#7fd4b2"/>
<line x1="306.97" y1="99.92" x2="306.97" y2="87.44" stroke="#8e4fb5" stroke-width="0.7" />
<line x1="305.52" y1="99.92" x2="308.42" y2="99.92" stroke="#8e4fb5" stroke-width="0.7" />
<line x1="305.52" y1="87.44" x2="308.42" y2="87.44" stroke="#8e4fb5" stroke-width="0.7" />
<rect x="304.97" y="91.68" width="4.00" height="4.00" rx="0.6" fill="#8e4fb5"/>
<line x1="319.80" y1="93.84" x2="319.80" y2="90.72" stroke="#8e4fb5" stroke-width="0.7" />
<line x1="318.35" y1="93.84" x2="321.25" y2="93.84" stroke="#8e4fb5" stroke-width="0.7" />
<line x1="318.35" y1="90.72" x2="321.25" y2="90.72" stroke="#8e4fb5" stroke-width="0.7" />
<rect x="317.80" y="90.28" width="4.00" height="4.00" rx="0.6" fill="#8e4fb5"/>
<line x1="332.61" y1="91.24" x2="332.61" y2="79.80" stroke="#8e4fb5" stroke-width="0.7" />
<line x1="331.16" y1="91.24" x2="334.06" y2="91.24" stroke="#8e4fb5" stroke-width="0.7" />
<line x1="331.16" y1="79.80" x2="334.06" y2="79.80" stroke="#8e4fb5" stroke-width="0.7" />
<rect x="330.61" y="83.52" width="4.00" height="4.00" rx="0.6" fill="#8e4fb5"/>
<line x1="345.42" y1="46.52" x2="345.42" y2="43.40" stroke="#8e4fb5" stroke-width="0.7" />
<line x1="343.97" y1="46.52" x2="346.87" y2="46.52" stroke="#8e4fb5" stroke-width="0.7" />
<line x1="343.97" y1="43.40" x2="346.87" y2="43.40" stroke="#8e4fb5" stroke-width="0.7" />
<rect x="343.42" y="42.96" width="4.00" height="4.00" rx="0.6" fill="#8e4fb5"/>
<line x1="255.77" y1="87.60" x2="255.77" y2="84.48" stroke="#c6c42a" stroke-width="0.7" />
<line x1="254.32" y1="87.60" x2="257.22" y2="87.60" stroke="#c6c42a" stroke-width="0.7" />
<line x1="254.32" y1="84.48" x2="257.22" y2="84.48" stroke="#c6c42a" stroke-width="0.7" />
<rect x="254.47" y="85.44" width="2.60" height="1.20" fill="#c6c42a"/>
<line x1="268.65" y1="82.92" x2="268.65" y2="78.76" stroke="#c6c42a" stroke-width="0.7" />
<line x1="267.20" y1="82.92" x2="270.10" y2="82.92" stroke="#c6c42a" stroke-width="0.7" />
<line x1="267.20" y1="78.76" x2="270.10" y2="78.76" stroke="#c6c42a" stroke-width="0.7" />
<rect x="267.35" y="80.24" width="2.60" height="1.20" fill="#c6c42a"/>
<line x1="281.27" y1="71.17" x2="281.27" y2="65.97" stroke="#c6c42a" stroke-width="0.7" />
<line x1="279.82" y1="71.17" x2="282.72" y2="71.17" stroke="#c6c42a" stroke-width="0.7" />
<line x1="279.82" y1="65.97" x2="282.72" y2="65.97" stroke="#c6c42a" stroke-width="0.7" />
<rect x="279.97" y="67.97" width="2.60" height="1.20" fill="#c6c42a"/>
<line x1="294.16" y1="51.20" x2="294.16" y2="44.96" stroke="#c6c42a" stroke-width="0.7" />
<line x1="292.71" y1="51.20" x2="295.61" y2="51.20" stroke="#c6c42a" stroke-width="0.7" />
<line x1="292.71" y1="44.96" x2="295.61" y2="44.96" stroke="#c6c42a" stroke-width="0.7" />
<rect x="292.86" y="47.48" width="2.60" height="1.20" fill="#c6c42a"/>
<line x1="306.97" y1="39.24" x2="306.97" y2="33.52" stroke="#c6c42a" stroke-width="0.7" />
<line x1="305.52" y1="39.24" x2="308.42" y2="39.24" stroke="#c6c42a" stroke-width="0.7" />
<line x1="305.52" y1="33.52" x2="308.42" y2="33.52" stroke="#c6c42a" stroke-width="0.7" />
<rect x="305.67" y="35.78" width="2.60" height="1.20" fill="#c6c42a"/>
<line x1="319.80" y1="33.00" x2="319.80" y2="30.92" stroke="#c6c42a" stroke-width="0.7" />
<line x1="318.35" y1="33.00" x2="321.25" y2="33.00" stroke="#c6c42a" stroke-width="0.7" />
<line x1="318.35" y1="30.92" x2="321.25" y2="30.92" stroke="#c6c42a" stroke-width="0.7" />
<rect x="318.50" y="31.36" width="2.60" height="1.20" fill="#c6c42a"/>
<rect x="331.31" y="30.84" width="2.60" height="1.20" fill="#c6c42a"/>
<rect x="344.12" y="30.84" width="2.60" height="1.20" fill="#c6c42a"/>
<line x1="357.80" y1="42.50" x2="365.30" y2="42.50" stroke="#e8262a" stroke-width="0.9" />
<circle cx="361.55" cy="42.50" r="1.10" fill="#e8262a"/>
<text x="369.90" y="44.50" font-size="5.35" text-anchor="start" font-weight="normal" fill="#1a1a1a" >A14</text>
<line x1="357.80" y1="51.80" x2="365.30" y2="51.80" stroke="#8a8a8a" stroke-width="0.9" />
<rect x="360.19" y="50.44" width="2.72" height="2.72" rx="0.68" fill="#fff" stroke="#8a8a8a" stroke-width="0.8"/>
<text x="369.90" y="53.80" font-size="5.35" text-anchor="start" font-weight="normal" fill="#1a1a1a" >A31</text>
<line x1="357.80" y1="61.10" x2="365.30" y2="61.10" stroke="#25a03a" stroke-width="0.9" />
<circle cx="361.55" cy="61.10" r="1.53" fill="#25a03a"/>
<text x="369.90" y="63.10" font-size="5.35" text-anchor="start" font-weight="normal" fill="#1a1a1a" >B13</text>
<line x1="357.80" y1="70.40" x2="365.30" y2="70.40" stroke="#3a4fb0" stroke-width="0.9" />
<path d="M361.55,68.53 L363.33,71.52 L359.77,71.52Z" fill="#3a4fb0"/>
<text x="369.90" y="72.40" font-size="5.35" text-anchor="start" font-weight="normal" fill="#1a1a1a" >B18</text>
<line x1="357.80" y1="79.70" x2="365.30" y2="79.70" stroke="#7fd4b2" stroke-width="0.9" />
<path d="M361.55,78.00 L363.25,79.70 L361.55,81.40 L359.85,79.70Z" fill="#7fd4b2"/>
<text x="369.90" y="81.70" font-size="5.35" text-anchor="start" font-weight="normal" fill="#1a1a1a" >B27</text>
<line x1="357.80" y1="89.00" x2="365.30" y2="89.00" stroke="#8e4fb5" stroke-width="0.9" />
<rect x="359.85" y="87.30" width="3.40" height="3.40" rx="0.6" fill="#8e4fb5"/>
<text x="369.90" y="91.00" font-size="5.35" text-anchor="start" font-weight="normal" fill="#1a1a1a" >C2</text>
<line x1="357.80" y1="98.30" x2="365.30" y2="98.30" stroke="#c6c42a" stroke-width="0.9" />
<rect x="360.44" y="97.79" width="2.21" height="1.02" fill="#c6c42a"/>
<text x="369.90" y="100.30" font-size="5.35" text-anchor="start" font-weight="normal" fill="#1a1a1a" >D11</text>
<text x="405.30" y="19.60" font-size="6.8" text-anchor="start" font-weight="normal" fill="#1a1a1a" >SARS-CoV-2 BA.1 pseudovirus neutralization</text>
<line x1="411.70" y1="30.40" x2="411.70" y2="102.78" stroke="#2a2a2a" stroke-width="0.9" />
<line x1="408.80" y1="30.40" x2="411.70" y2="30.40" stroke="#2a2a2a" stroke-width="0.8" />
<text transform="translate(407.40,32.65) scale(1,1.12)" font-size="5.6" text-anchor="end" font-weight="bold" fill="#1a1a1a" >100</text>
<line x1="408.80" y1="40.74" x2="411.70" y2="40.74" stroke="#2a2a2a" stroke-width="0.8" />
<text transform="translate(407.40,42.99) scale(1,1.12)" font-size="5.6" text-anchor="end" font-weight="bold" fill="#1a1a1a" >80</text>
<line x1="408.80" y1="51.08" x2="411.70" y2="51.08" stroke="#2a2a2a" stroke-width="0.8" />
<text transform="translate(407.40,53.33) scale(1,1.12)" font-size="5.6" text-anchor="end" font-weight="bold" fill="#1a1a1a" >60</text>
<line x1="408.80" y1="61.42" x2="411.70" y2="61.42" stroke="#2a2a2a" stroke-width="0.8" />
<text transform="translate(407.40,63.67) scale(1,1.12)" font-size="5.6" text-anchor="end" font-weight="bold" fill="#1a1a1a" >40</text>
<line x1="408.80" y1="71.76" x2="411.70" y2="71.76" stroke="#2a2a2a" stroke-width="0.8" />
<text transform="translate(407.40,74.01) scale(1,1.12)" font-size="5.6" text-anchor="end" font-weight="bold" fill="#1a1a1a" >20</text>
<line x1="408.80" y1="82.10" x2="411.70" y2="82.10" stroke="#2a2a2a" stroke-width="0.8" />
<text transform="translate(407.40,84.35) scale(1,1.12)" font-size="5.6" text-anchor="end" font-weight="bold" fill="#1a1a1a" >0</text>
<line x1="408.80" y1="92.44" x2="411.70" y2="92.44" stroke="#2a2a2a" stroke-width="0.8" />
<text transform="translate(407.40,94.69) scale(1,1.12)" font-size="5.6" text-anchor="end" font-weight="bold" fill="#1a1a1a" >-20</text>
<line x1="408.80" y1="102.78" x2="411.70" y2="102.78" stroke="#2a2a2a" stroke-width="0.8" />
<text transform="translate(407.40,105.03) scale(1,1.12)" font-size="5.6" text-anchor="end" font-weight="bold" fill="#1a1a1a" >-40</text>
<line x1="411.70" y1="102.78" x2="519.30" y2="102.78" stroke="#2a2a2a" stroke-width="0.9" />
<line x1="411.70" y1="102.78" x2="411.70" y2="105.28" stroke="#2a2a2a" stroke-width="0.8" />
<text transform="translate(411.10,112.50) scale(1,1.12)" font-size="5.6" text-anchor="middle" font-weight="bold" fill="#1a1a1a" >-3</text>
<line x1="438.60" y1="102.78" x2="438.60" y2="105.28" stroke="#2a2a2a" stroke-width="0.8" />
<text transform="translate(438.00,112.50) scale(1,1.12)" font-size="5.6" text-anchor="middle" font-weight="bold" fill="#1a1a1a" >-2</text>
<line x1="465.50" y1="102.78" x2="465.50" y2="105.28" stroke="#2a2a2a" stroke-width="0.8" />
<text transform="translate(464.90,112.50) scale(1,1.12)" font-size="5.6" text-anchor="middle" font-weight="bold" fill="#1a1a1a" >-1</text>
<line x1="492.40" y1="102.78" x2="492.40" y2="105.28" stroke="#2a2a2a" stroke-width="0.8" />
<text transform="translate(491.80,112.50) scale(1,1.12)" font-size="5.6" text-anchor="middle" font-weight="bold" fill="#1a1a1a" >0</text>
<line x1="519.30" y1="102.78" x2="519.30" y2="105.28" stroke="#2a2a2a" stroke-width="0.8" />
<text transform="translate(518.70,112.50) scale(1,1.12)" font-size="5.6" text-anchor="middle" font-weight="bold" fill="#1a1a1a" >1</text>
<line x1="411.70" y1="82.10" x2="519.30" y2="82.10" stroke="#333" stroke-width="0.75" stroke-dasharray="0.9 1.0"/>
<text transform="translate(397.00,66.59) rotate(-90)" font-size="6.3" font-weight="bold" text-anchor="middle" fill="#1a1a1a">Neutralization (%)</text>
<text x="418.00" y="121.20" font-size="6.25" font-weight="bold" fill="#1a1a1a">Log<tspan font-size="4.4" dx="0.2" dy="0.9">10</tspan><tspan dx="0.5" dy="-0.9">VHH concentration (μg/mL)</tspan></text>
<polyline points="421.38,82.88 422.13,82.76 422.88,82.65 423.63,82.55 424.38,82.45 425.13,82.36 425.87,82.26 426.62,82.17 427.37,82.07 428.12,81.97 428.87,81.87 429.62,81.75 430.37,81.63 431.11,81.50 431.86,81.36 432.61,81.21 433.36,81.04 434.11,80.86 434.86,80.66 435.61,80.47 436.35,80.29 437.10,80.10 437.85,79.91 438.60,79.71 439.35,79.51 440.10,79.29 440.84,79.06 441.59,78.80 442.34,78.53 443.09,78.23 443.84,77.90 444.59,77.53 445.34,77.14 446.08,76.70 446.83,76.23 447.58,75.71 448.33,75.16 449.08,74.58 449.83,73.97 450.58,73.34 451.32,72.67 452.07,71.98 452.82,71.26 453.57,70.52 454.32,69.76 455.07,68.97 455.81,68.16 456.56,67.33 457.31,66.49 458.06,65.62 458.81,64.74 459.56,63.84 460.31,62.92 461.05,61.94 461.80,60.90 462.55,59.81 463.30,58.68 464.05,57.52 464.80,56.34 465.55,55.15 466.29,53.95 467.04,52.76 467.79,51.58 468.54,50.43 469.29,49.31 470.04,48.23 470.78,47.20 471.53,46.23 472.28,45.33 473.03,44.50 473.78,43.72 474.53,42.97 475.28,42.27 476.02,41.60 476.77,40.96 477.52,40.35 478.27,39.77 479.02,39.22 479.77,38.70 480.51,38.20 481.26,37.72 482.01,37.26 482.76,36.82 483.51,36.39 484.26,35.99 485.01,35.59 485.75,35.20 486.50,34.84 487.25,34.51 488.00,34.21 488.75,33.93 489.50,33.67 490.25,33.44 490.99,33.22 491.74,33.02 492.49,32.84 493.24,32.67 493.99,32.51 494.74,32.36 495.48,32.22 496.23,32.08 496.98,31.94 497.73,31.81 498.48,31.67 499.23,31.55 499.98,31.44 500.72,31.34 501.47,31.26 502.22,31.19 502.97,31.13 503.72,31.08 504.47,31.03 505.22,30.99 505.96,30.95 506.71,30.92 507.46,30.88 508.21,30.85 508.96,30.81 509.71,30.76 510.45,30.71 511.20,30.66" fill="none" stroke="#e8262a" stroke-width="1.15"/>
<polyline points="421.38,80.29 422.13,80.25 422.88,80.21 423.63,80.17 424.38,80.13 425.13,80.10 425.87,80.06 426.62,80.03 427.37,79.99 428.12,79.96 428.87,79.92 429.62,79.88 430.37,79.83 431.11,79.78 431.86,79.73 432.61,79.67 433.36,79.60 434.11,79.53 434.86,79.46 435.61,79.39 436.35,79.32 437.10,79.25 437.85,79.18 438.60,79.11 439.35,79.04 440.10,78.96 440.84,78.87 441.59,78.77 442.34,78.67 443.09,78.55 443.84,78.42 444.59,78.27 445.34,78.11 446.08,77.93 446.83,77.74 447.58,77.52 448.33,77.30 449.08,77.08 449.83,76.84 450.58,76.59 451.32,76.34 452.07,76.07 452.82,75.78 453.57,75.49 454.32,75.18 455.07,74.85 455.81,74.50 456.56,74.13 457.31,73.75 458.06,73.34 458.81,72.91 459.56,72.46 460.31,71.98 461.05,71.47 461.80,70.93 462.55,70.36 463.30,69.76 464.05,69.15 464.80,68.51 465.55,67.86 466.29,67.20 467.04,66.52 467.79,65.84 468.54,65.16 469.29,64.47 470.04,63.78 470.78,63.10 471.53,62.43 472.28,61.77 473.03,61.12 473.78,60.46 474.53,59.79 475.28,59.11 476.02,58.42 476.77,57.73 477.52,57.04 478.27,56.35 479.02,55.66 479.77,54.97 480.51,54.29 481.26,53.62 482.01,52.96 482.76,52.31 483.51,51.68 484.26,51.06 485.01,50.46 485.75,49.88 486.50,49.32 487.25,48.77 488.00,48.22 488.75,47.69 489.50,47.17 490.25,46.65 490.99,46.15 491.74,45.66 492.49,45.18 493.24,44.71 493.99,44.25 494.74,43.80 495.48,43.37 496.23,42.94 496.98,42.52 497.73,42.11 498.48,41.72 499.23,41.34 499.98,40.98 500.72,40.64 501.47,40.31 502.22,40.00 502.97,39.69 503.72,39.40 504.47,39.12 505.22,38.84 505.96,38.56 506.71,38.29 507.46,38.02 508.21,37.75 508.96,37.47 509.71,37.19 510.45,36.90 511.20,36.60" fill="none" stroke="#8a8a8a" stroke-width="1.15"/>
<polyline points="421.38,85.72 422.13,85.67 422.88,85.63 423.63,85.59 424.38,85.55 425.13,85.51 425.87,85.47 426.62,85.43 427.37,85.39 428.12,85.35 428.87,85.31 429.62,85.26 430.37,85.22 431.11,85.17 431.86,85.12 432.61,85.07 433.36,85.02 434.11,84.96 434.86,84.90 435.61,84.85 436.35,84.81 437.10,84.77 437.85,84.74 438.60,84.71 439.35,84.67 440.10,84.63 440.84,84.58 441.59,84.53 442.34,84.46 443.09,84.38 443.84,84.28 444.59,84.16 445.34,84.03 446.08,83.87 446.83,83.68 447.58,83.47 448.33,83.25 449.08,83.01 449.83,82.77 450.58,82.50 451.32,82.22 452.07,81.93 452.82,81.62 453.57,81.30 454.32,80.96 455.07,80.61 455.81,80.24 456.56,79.85 457.31,79.45 458.06,79.03 458.81,78.60 459.56,78.15 460.31,77.68 461.05,77.19 461.80,76.69 462.55,76.18 463.30,75.64 464.05,75.10 464.80,74.53 465.55,73.95 466.29,73.35 467.04,72.74 467.79,72.11 468.54,71.47 469.29,70.81 470.04,70.14 470.78,69.45 471.53,68.74 472.28,68.02 473.03,67.28 473.78,66.50 474.53,65.69 475.28,64.84 476.02,63.97 476.77,63.07 477.52,62.16 478.27,61.24 479.02,60.31 479.77,59.38 480.51,58.45 481.26,57.52 482.01,56.61 482.76,55.72 483.51,54.85 484.26,54.00 485.01,53.19 485.75,52.41 486.50,51.65 487.25,50.88 488.00,50.13 488.75,49.38 489.50,48.64 490.25,47.91 490.99,47.20 491.74,46.50 492.49,45.81 493.24,45.15 493.99,44.51 494.74,43.89 495.48,43.29 496.23,42.72 496.98,42.18 497.73,41.67 498.48,41.19 499.23,40.75 499.98,40.35 500.72,39.99 501.47,39.67 502.22,39.37 502.97,39.09 503.72,38.84 504.47,38.61 505.22,38.39 505.96,38.17 506.71,37.96 507.46,37.76 508.21,37.55 508.96,37.33 509.71,37.11 510.45,36.86 511.20,36.60" fill="none" stroke="#25a03a" stroke-width="1.15"/>
<polyline points="421.38,90.37 422.13,90.30 422.88,90.23 423.63,90.16 424.38,90.10 425.13,90.04 425.87,89.98 426.62,89.91 427.37,89.85 428.12,89.79 428.87,89.72 429.62,89.65 430.37,89.57 431.11,89.49 431.86,89.41 432.61,89.31 433.36,89.22 434.11,89.11 434.86,88.99 435.61,88.87 436.35,88.75 437.10,88.62 437.85,88.48 438.60,88.34 439.35,88.20 440.10,88.05 440.84,87.90 441.59,87.74 442.34,87.58 443.09,87.41 443.84,87.24 444.59,87.07 445.34,86.89 446.08,86.71 446.83,86.52 447.58,86.33 448.33,86.14 449.08,85.95 449.83,85.76 450.58,85.56 451.32,85.36 452.07,85.15 452.82,84.95 453.57,84.73 454.32,84.51 455.07,84.28 455.81,84.05 456.56,83.80 457.31,83.55 458.06,83.29 458.81,83.01 459.56,82.73 460.31,82.44 461.05,82.15 461.80,81.87 462.55,81.58 463.30,81.30 464.05,81.00 464.80,80.70 465.55,80.39 466.29,80.07 467.04,79.73 467.79,79.37 468.54,78.99 469.29,78.59 470.04,78.17 470.78,77.71 471.53,77.23 472.28,76.71 473.03,76.15 473.78,75.55 474.53,74.92 475.28,74.25 476.02,73.55 476.77,72.82 477.52,72.06 478.27,71.29 479.02,70.50 479.77,69.70 480.51,68.89 481.26,68.08 482.01,67.26 482.76,66.44 483.51,65.63 484.26,64.83 485.01,64.04 485.75,63.27 486.50,62.49 487.25,61.71 488.00,60.91 488.75,60.12 489.50,59.32 490.25,58.51 490.99,57.71 491.74,56.90 492.49,56.10 493.24,55.30 493.99,54.51 494.74,53.72 495.48,52.94 496.23,52.17 496.98,51.42 497.73,50.67 498.48,49.94 499.23,49.23 499.98,48.53 500.72,47.83 501.47,47.15 502.22,46.48 502.97,45.82 503.72,45.16 504.47,44.51 505.22,43.86 505.96,43.21 506.71,42.57 507.46,41.93 508.21,41.28 508.96,40.64 509.71,39.99 510.45,39.33 511.20,38.67" fill="none" stroke="#3a4fb0" stroke-width="1.15"/>
<polyline points="421.38,84.17 422.13,84.15 422.88,84.14 423.63,84.13 424.38,84.11 425.13,84.10 425.87,84.09 426.62,84.08 427.37,84.06 428.12,84.05 428.87,84.04 429.62,84.02 430.37,84.01 431.11,83.99 431.86,83.97 432.61,83.96 433.36,83.94 434.11,83.92 434.86,83.89 435.61,83.87 436.35,83.84 437.10,83.82 437.85,83.79 438.60,83.76 439.35,83.73 440.10,83.70 440.84,83.67 441.59,83.64 442.34,83.61 443.09,83.58 443.84,83.54 444.59,83.51 445.34,83.47 446.08,83.44 446.83,83.40 447.58,83.36 448.33,83.33 449.08,83.31 449.83,83.29 450.58,83.27 451.32,83.26 452.07,83.24 452.82,83.22 453.57,83.19 454.32,83.16 455.07,83.13 455.81,83.08 456.56,83.02 457.31,82.96 458.06,82.87 458.81,82.78 459.56,82.67 460.31,82.54 461.05,82.40 461.80,82.26 462.55,82.11 463.30,81.96 464.05,81.79 464.80,81.62 465.55,81.43 466.29,81.24 467.04,81.03 467.79,80.81 468.54,80.57 469.29,80.32 470.04,80.06 470.78,79.78 471.53,79.49 472.28,79.17 473.03,78.84 473.78,78.49 474.53,78.13 475.28,77.75 476.02,77.35 476.77,76.94 477.52,76.52 478.27,76.08 479.02,75.63 479.77,75.17 480.51,74.69 481.26,74.21 482.01,73.71 482.76,73.20 483.51,72.69 484.26,72.16 485.01,71.63 485.75,71.09 486.50,70.55 487.25,70.02 488.00,69.48 488.75,68.94 489.50,68.40 490.25,67.84 490.99,67.28 491.74,66.70 492.49,66.10 493.24,65.47 493.99,64.83 494.74,64.15 495.48,63.45 496.23,62.71 496.98,61.93 497.73,61.12 498.48,60.26 499.23,59.35 499.98,58.39 500.72,57.38 501.47,56.34 502.22,55.26 502.97,54.14 503.72,53.00 504.47,51.84 505.22,50.66 505.96,49.48 506.71,48.28 507.46,47.09 508.21,45.89 508.96,44.71 509.71,43.54 510.45,42.39 511.20,41.26" fill="none" stroke="#8e4fb5" stroke-width="1.15"/>
<polyline points="421.38,86.24 422.13,86.10 422.88,85.98 423.63,85.85 424.38,85.73 425.13,85.61 425.87,85.49 426.62,85.37 427.37,85.25 428.12,85.13 428.87,85.00 429.62,84.87 430.37,84.74 431.11,84.60 431.86,84.45 432.61,84.29 433.36,84.13 434.11,83.95 434.86,83.77 435.61,83.59 436.35,83.39 437.10,83.20 437.85,83.00 438.60,82.79 439.35,82.58 440.10,82.36 440.84,82.14 441.59,81.91 442.34,81.67 443.09,81.43 443.84,81.17 444.59,80.91 445.34,80.64 446.08,80.36 446.83,80.07 447.58,79.78 448.33,79.49 449.08,79.19 449.83,78.90 450.58,78.60 451.32,78.29 452.07,77.98 452.82,77.65 453.57,77.32 454.32,76.97 455.07,76.61 455.81,76.23 456.56,75.83 457.31,75.42 458.06,74.98 458.81,74.51 459.56,74.03 460.31,73.51 461.05,72.97 461.80,72.39 462.55,71.79 463.30,71.17 464.05,70.53 464.80,69.87 465.55,69.19 466.29,68.50 467.04,67.81 467.79,67.10 468.54,66.39 469.29,65.67 470.04,64.95 470.78,64.24 471.53,63.53 472.28,62.83 473.03,62.13 473.78,61.43 474.53,60.72 475.28,60.01 476.02,59.29 476.77,58.56 477.52,57.84 478.27,57.11 479.02,56.37 479.77,55.64 480.51,54.91 481.26,54.17 482.01,53.44 482.76,52.71 483.51,51.99 484.26,51.27 485.01,50.55 485.75,49.84 486.50,49.13 487.25,48.40 488.00,47.67 488.75,46.94 489.50,46.20 490.25,45.46 490.99,44.73 491.74,44.00 492.49,43.28 493.24,42.57 493.99,41.87 494.74,41.19 495.48,40.52 496.23,39.88 496.98,39.25 497.73,38.65 498.48,38.07 499.23,37.53 499.98,37.01 500.72,36.51 501.47,36.04 502.22,35.58 502.97,35.14 503.72,34.72 504.47,34.31 505.22,33.90 505.96,33.50 506.71,33.11 507.46,32.71 508.21,32.32 508.96,31.91 509.71,31.51 510.45,31.09 511.20,30.66" fill="none" stroke="#c6c42a" stroke-width="1.15"/>
<line x1="421.38" y1="90.63" x2="421.38" y2="76.15" stroke="#e8262a" stroke-width="0.7" />
<line x1="419.93" y1="90.63" x2="422.83" y2="90.63" stroke="#e8262a" stroke-width="0.7" />
<line x1="419.93" y1="76.15" x2="422.83" y2="76.15" stroke="#e8262a" stroke-width="0.7" />
<circle cx="421.38" cy="83.39" r="1.30" fill="#e8262a"/>
<line x1="434.30" y1="85.72" x2="434.30" y2="73.31" stroke="#e8262a" stroke-width="0.7" />
<line x1="432.85" y1="85.72" x2="435.75" y2="85.72" stroke="#e8262a" stroke-width="0.7" />
<line x1="432.85" y1="73.31" x2="435.75" y2="73.31" stroke="#e8262a" stroke-width="0.7" />
<circle cx="434.30" cy="79.52" r="1.30" fill="#e8262a"/>
<line x1="446.94" y1="78.58" x2="446.94" y2="73.41" stroke="#e8262a" stroke-width="0.7" />
<line x1="445.49" y1="78.58" x2="448.39" y2="78.58" stroke="#e8262a" stroke-width="0.7" />
<line x1="445.49" y1="73.41" x2="448.39" y2="73.41" stroke="#e8262a" stroke-width="0.7" />
<circle cx="446.94" cy="76.00" r="1.30" fill="#e8262a"/>
<line x1="459.85" y1="69.17" x2="459.85" y2="56.77" stroke="#e8262a" stroke-width="0.7" />
<line x1="458.40" y1="69.17" x2="461.30" y2="69.17" stroke="#e8262a" stroke-width="0.7" />
<line x1="458.40" y1="56.77" x2="461.30" y2="56.77" stroke="#e8262a" stroke-width="0.7" />
<circle cx="459.85" cy="62.97" r="1.30" fill="#e8262a"/>
<line x1="472.68" y1="46.69" x2="472.68" y2="41.52" stroke="#e8262a" stroke-width="0.7" />
<line x1="471.23" y1="46.69" x2="474.13" y2="46.69" stroke="#e8262a" stroke-width="0.7" />
<line x1="471.23" y1="41.52" x2="474.13" y2="41.52" stroke="#e8262a" stroke-width="0.7" />
<circle cx="472.68" cy="44.10" r="1.30" fill="#e8262a"/>
<line x1="485.54" y1="36.60" x2="485.54" y2="33.50" stroke="#e8262a" stroke-width="0.7" />
<line x1="484.09" y1="36.60" x2="486.99" y2="36.60" stroke="#e8262a" stroke-width="0.7" />
<line x1="484.09" y1="33.50" x2="486.99" y2="33.50" stroke="#e8262a" stroke-width="0.7" />
<circle cx="485.54" cy="35.05" r="1.30" fill="#e8262a"/>
<circle cx="498.37" cy="30.92" r="1.30" fill="#e8262a"/>
<circle cx="511.20" cy="30.66" r="1.30" fill="#e8262a"/>
<line x1="421.38" y1="86.49" x2="421.38" y2="72.02" stroke="#8a8a8a" stroke-width="0.7" />
<line x1="419.93" y1="86.49" x2="422.83" y2="86.49" stroke="#8a8a8a" stroke-width="0.7" />
<line x1="419.93" y1="72.02" x2="422.83" y2="72.02" stroke="#8a8a8a" stroke-width="0.7" />
<rect x="419.78" y="77.66" width="3.20" height="3.20" rx="0.80" fill="#fff" stroke="#8a8a8a" stroke-width="0.8"/>
<line x1="434.30" y1="81.84" x2="434.30" y2="75.64" stroke="#8a8a8a" stroke-width="0.7" />
<line x1="432.85" y1="81.84" x2="435.75" y2="81.84" stroke="#8a8a8a" stroke-width="0.7" />
<line x1="432.85" y1="75.64" x2="435.75" y2="75.64" stroke="#8a8a8a" stroke-width="0.7" />
<rect x="432.70" y="77.14" width="3.20" height="3.20" rx="0.80" fill="#fff" stroke="#8a8a8a" stroke-width="0.8"/>
<line x1="446.94" y1="80.03" x2="446.94" y2="74.86" stroke="#8a8a8a" stroke-width="0.7" />
<line x1="445.49" y1="80.03" x2="448.39" y2="80.03" stroke="#8a8a8a" stroke-width="0.7" />
<line x1="445.49" y1="74.86" x2="448.39" y2="74.86" stroke="#8a8a8a" stroke-width="0.7" />
<rect x="445.34" y="75.85" width="3.20" height="3.20" rx="0.80" fill="#fff" stroke="#8a8a8a" stroke-width="0.8"/>
<line x1="459.85" y1="75.38" x2="459.85" y2="70.21" stroke="#8a8a8a" stroke-width="0.7" />
<line x1="458.40" y1="75.38" x2="461.30" y2="75.38" stroke="#8a8a8a" stroke-width="0.7" />
<line x1="458.40" y1="70.21" x2="461.30" y2="70.21" stroke="#8a8a8a" stroke-width="0.7" />
<rect x="458.25" y="71.19" width="3.20" height="3.20" rx="0.80" fill="#fff" stroke="#8a8a8a" stroke-width="0.8"/>
<line x1="472.68" y1="66.85" x2="472.68" y2="54.44" stroke="#8a8a8a" stroke-width="0.7" />
<line x1="471.23" y1="66.85" x2="474.13" y2="66.85" stroke="#8a8a8a" stroke-width="0.7" />
<line x1="471.23" y1="54.44" x2="474.13" y2="54.44" stroke="#8a8a8a" stroke-width="0.7" />
<rect x="471.08" y="59.04" width="3.20" height="3.20" rx="0.80" fill="#fff" stroke="#8a8a8a" stroke-width="0.8"/>
<line x1="485.54" y1="53.15" x2="485.54" y2="47.98" stroke="#8a8a8a" stroke-width="0.7" />
<line x1="484.09" y1="53.15" x2="486.99" y2="53.15" stroke="#8a8a8a" stroke-width="0.7" />
<line x1="484.09" y1="47.98" x2="486.99" y2="47.98" stroke="#8a8a8a" stroke-width="0.7" />
<rect x="483.94" y="48.96" width="3.20" height="3.20" rx="0.80" fill="#fff" stroke="#8a8a8a" stroke-width="0.8"/>
<line x1="498.37" y1="44.88" x2="498.37" y2="41.77" stroke="#8a8a8a" stroke-width="0.7" />
<line x1="496.92" y1="44.88" x2="499.82" y2="44.88" stroke="#8a8a8a" stroke-width="0.7" />
<line x1="496.92" y1="41.77" x2="499.82" y2="41.77" stroke="#8a8a8a" stroke-width="0.7" />
<rect x="496.77" y="41.73" width="3.20" height="3.20" rx="0.80" fill="#fff" stroke="#8a8a8a" stroke-width="0.8"/>
<rect x="509.60" y="35.52" width="3.20" height="3.20" rx="0.80" fill="#fff" stroke="#8a8a8a" stroke-width="0.8"/>
<line x1="421.38" y1="88.30" x2="421.38" y2="82.10" stroke="#25a03a" stroke-width="0.7" />
<line x1="419.93" y1="88.30" x2="422.83" y2="88.30" stroke="#25a03a" stroke-width="0.7" />
<line x1="419.93" y1="82.10" x2="422.83" y2="82.10" stroke="#25a03a" stroke-width="0.7" />
<circle cx="421.38" cy="85.20" r="1.80" fill="#25a03a"/>
<line x1="434.30" y1="86.75" x2="434.30" y2="82.62" stroke="#25a03a" stroke-width="0.7" />
<line x1="432.85" y1="86.75" x2="435.75" y2="86.75" stroke="#25a03a" stroke-width="0.7" />
<line x1="432.85" y1="82.62" x2="435.75" y2="82.62" stroke="#25a03a" stroke-width="0.7" />
<circle cx="434.30" cy="84.68" r="1.80" fill="#25a03a"/>
<line x1="446.94" y1="87.48" x2="446.94" y2="84.37" stroke="#25a03a" stroke-width="0.7" />
<line x1="445.49" y1="87.48" x2="448.39" y2="87.48" stroke="#25a03a" stroke-width="0.7" />
<line x1="445.49" y1="84.37" x2="448.39" y2="84.37" stroke="#25a03a" stroke-width="0.7" />
<circle cx="446.94" cy="85.93" r="1.80" fill="#25a03a"/>
<line x1="459.85" y1="77.55" x2="459.85" y2="74.45" stroke="#25a03a" stroke-width="0.7" />
<line x1="458.40" y1="77.55" x2="461.30" y2="77.55" stroke="#25a03a" stroke-width="0.7" />
<line x1="458.40" y1="74.45" x2="461.30" y2="74.45" stroke="#25a03a" stroke-width="0.7" />
<circle cx="459.85" cy="76.00" r="1.80" fill="#25a03a"/>
<line x1="472.68" y1="68.14" x2="472.68" y2="64.00" stroke="#25a03a" stroke-width="0.7" />
<line x1="471.23" y1="68.14" x2="474.13" y2="68.14" stroke="#25a03a" stroke-width="0.7" />
<line x1="471.23" y1="64.00" x2="474.13" y2="64.00" stroke="#25a03a" stroke-width="0.7" />
<circle cx="472.68" cy="66.07" r="1.80" fill="#25a03a"/>
<line x1="485.54" y1="53.15" x2="485.54" y2="49.01" stroke="#25a03a" stroke-width="0.7" />
<line x1="484.09" y1="53.15" x2="486.99" y2="53.15" stroke="#25a03a" stroke-width="0.7" />
<line x1="484.09" y1="49.01" x2="486.99" y2="49.01" stroke="#25a03a" stroke-width="0.7" />
<circle cx="485.54" cy="51.08" r="1.80" fill="#25a03a"/>
<line x1="498.37" y1="50.05" x2="498.37" y2="45.91" stroke="#25a03a" stroke-width="0.7" />
<line x1="496.92" y1="50.05" x2="499.82" y2="50.05" stroke="#25a03a" stroke-width="0.7" />
<line x1="496.92" y1="45.91" x2="499.82" y2="45.91" stroke="#25a03a" stroke-width="0.7" />
<circle cx="498.37" cy="47.98" r="1.80" fill="#25a03a"/>
<circle cx="511.20" cy="34.02" r="1.80" fill="#25a03a"/>
<line x1="421.38" y1="93.22" x2="421.38" y2="87.01" stroke="#3a4fb0" stroke-width="0.7" />
<line x1="419.93" y1="93.22" x2="422.83" y2="93.22" stroke="#3a4fb0" stroke-width="0.7" />
<line x1="419.93" y1="87.01" x2="422.83" y2="87.01" stroke="#3a4fb0" stroke-width="0.7" />
<path d="M421.38,87.91 L423.47,91.43 L419.29,91.43Z" fill="#3a4fb0"/>
<line x1="434.30" y1="90.89" x2="434.30" y2="87.79" stroke="#3a4fb0" stroke-width="0.7" />
<line x1="432.85" y1="90.89" x2="435.75" y2="90.89" stroke="#3a4fb0" stroke-width="0.7" />
<line x1="432.85" y1="87.79" x2="435.75" y2="87.79" stroke="#3a4fb0" stroke-width="0.7" />
<path d="M434.30,87.14 L436.39,90.66 L432.21,90.66Z" fill="#3a4fb0"/>
<line x1="446.94" y1="87.79" x2="446.94" y2="84.68" stroke="#3a4fb0" stroke-width="0.7" />
<line x1="445.49" y1="87.79" x2="448.39" y2="87.79" stroke="#3a4fb0" stroke-width="0.7" />
<line x1="445.49" y1="84.68" x2="448.39" y2="84.68" stroke="#3a4fb0" stroke-width="0.7" />
<path d="M446.94,84.04 L449.03,87.56 L444.85,87.56Z" fill="#3a4fb0"/>
<line x1="459.85" y1="83.65" x2="459.85" y2="80.55" stroke="#3a4fb0" stroke-width="0.7" />
<line x1="458.40" y1="83.65" x2="461.30" y2="83.65" stroke="#3a4fb0" stroke-width="0.7" />
<line x1="458.40" y1="80.55" x2="461.30" y2="80.55" stroke="#3a4fb0" stroke-width="0.7" />
<path d="M459.85,79.90 L461.94,83.42 L457.76,83.42Z" fill="#3a4fb0"/>
<line x1="472.68" y1="80.29" x2="472.68" y2="72.02" stroke="#3a4fb0" stroke-width="0.7" />
<line x1="471.23" y1="80.29" x2="474.13" y2="80.29" stroke="#3a4fb0" stroke-width="0.7" />
<line x1="471.23" y1="72.02" x2="474.13" y2="72.02" stroke="#3a4fb0" stroke-width="0.7" />
<path d="M472.68,73.95 L474.77,77.47 L470.59,77.47Z" fill="#3a4fb0"/>
<line x1="485.54" y1="64.52" x2="485.54" y2="61.42" stroke="#3a4fb0" stroke-width="0.7" />
<line x1="484.09" y1="64.52" x2="486.99" y2="64.52" stroke="#3a4fb0" stroke-width="0.7" />
<line x1="484.09" y1="61.42" x2="486.99" y2="61.42" stroke="#3a4fb0" stroke-width="0.7" />
<path d="M485.54,60.77 L487.63,64.29 L483.45,64.29Z" fill="#3a4fb0"/>
<line x1="498.37" y1="50.05" x2="498.37" y2="46.94" stroke="#3a4fb0" stroke-width="0.7" />
<line x1="496.92" y1="50.05" x2="499.82" y2="50.05" stroke="#3a4fb0" stroke-width="0.7" />
<line x1="496.92" y1="46.94" x2="499.82" y2="46.94" stroke="#3a4fb0" stroke-width="0.7" />
<path d="M498.37,46.29 L500.46,49.81 L496.28,49.81Z" fill="#3a4fb0"/>
<path d="M511.20,36.99 L513.29,40.51 L509.11,40.51Z" fill="#3a4fb0"/>
<line x1="421.38" y1="87.27" x2="421.38" y2="81.07" stroke="#8e4fb5" stroke-width="0.7" />
<line x1="419.93" y1="87.27" x2="422.83" y2="87.27" stroke="#8e4fb5" stroke-width="0.7" />
<line x1="419.93" y1="81.07" x2="422.83" y2="81.07" stroke="#8e4fb5" stroke-width="0.7" />
<rect x="419.38" y="82.17" width="4.00" height="4.00" rx="0.6" fill="#8e4fb5"/>
<line x1="434.30" y1="86.24" x2="434.30" y2="81.07" stroke="#8e4fb5" stroke-width="0.7" />
<line x1="432.85" y1="86.24" x2="435.75" y2="86.24" stroke="#8e4fb5" stroke-width="0.7" />
<line x1="432.85" y1="81.07" x2="435.75" y2="81.07" stroke="#8e4fb5" stroke-width="0.7" />
<rect x="432.30" y="81.65" width="4.00" height="4.00" rx="0.6" fill="#8e4fb5"/>
<line x1="446.94" y1="85.20" x2="446.94" y2="81.07" stroke="#8e4fb5" stroke-width="0.7" />
<line x1="445.49" y1="85.20" x2="448.39" y2="85.20" stroke="#8e4fb5" stroke-width="0.7" />
<line x1="445.49" y1="81.07" x2="448.39" y2="81.07" stroke="#8e4fb5" stroke-width="0.7" />
<rect x="444.94" y="81.13" width="4.00" height="4.00" rx="0.6" fill="#8e4fb5"/>
<line x1="459.85" y1="84.68" x2="459.85" y2="81.58" stroke="#8e4fb5" stroke-width="0.7" />
<line x1="458.40" y1="84.68" x2="461.30" y2="84.68" stroke="#8e4fb5" stroke-width="0.7" />
<line x1="458.40" y1="81.58" x2="461.30" y2="81.58" stroke="#8e4fb5" stroke-width="0.7" />
<rect x="457.85" y="81.13" width="4.00" height="4.00" rx="0.6" fill="#8e4fb5"/>
<line x1="472.68" y1="80.65" x2="472.68" y2="75.48" stroke="#8e4fb5" stroke-width="0.7" />
<line x1="471.23" y1="80.65" x2="474.13" y2="80.65" stroke="#8e4fb5" stroke-width="0.7" />
<line x1="471.23" y1="75.48" x2="474.13" y2="75.48" stroke="#8e4fb5" stroke-width="0.7" />
<rect x="470.68" y="76.07" width="4.00" height="4.00" rx="0.6" fill="#8e4fb5"/>
<line x1="485.54" y1="70.73" x2="485.54" y2="67.62" stroke="#8e4fb5" stroke-width="0.7" />
<line x1="484.09" y1="70.73" x2="486.99" y2="70.73" stroke="#8e4fb5" stroke-width="0.7" />
<line x1="484.09" y1="67.62" x2="486.99" y2="67.62" stroke="#8e4fb5" stroke-width="0.7" />
<rect x="483.54" y="67.17" width="4.00" height="4.00" rx="0.6" fill="#8e4fb5"/>
<line x1="498.37" y1="63.13" x2="498.37" y2="58.99" stroke="#8e4fb5" stroke-width="0.7" />
<line x1="496.92" y1="63.13" x2="499.82" y2="63.13" stroke="#8e4fb5" stroke-width="0.7" />
<line x1="496.92" y1="58.99" x2="499.82" y2="58.99" stroke="#8e4fb5" stroke-width="0.7" />
<rect x="496.37" y="59.06" width="4.00" height="4.00" rx="0.6" fill="#8e4fb5"/>
<line x1="511.20" y1="42.55" x2="511.20" y2="39.45" stroke="#8e4fb5" stroke-width="0.7" />
<line x1="509.75" y1="42.55" x2="512.65" y2="42.55" stroke="#8e4fb5" stroke-width="0.7" />
<line x1="509.75" y1="39.45" x2="512.65" y2="39.45" stroke="#8e4fb5" stroke-width="0.7" />
<rect x="509.20" y="39.00" width="4.00" height="4.00" rx="0.6" fill="#8e4fb5"/>
<rect x="420.08" y="85.64" width="2.60" height="1.20" fill="#c6c42a"/>
<rect x="433.00" y="83.57" width="2.60" height="1.20" fill="#c6c42a"/>
<line x1="446.94" y1="82.62" x2="446.94" y2="69.17" stroke="#c6c42a" stroke-width="0.7" />
<line x1="445.49" y1="82.62" x2="448.39" y2="82.62" stroke="#c6c42a" stroke-width="0.7" />
<line x1="445.49" y1="69.17" x2="448.39" y2="69.17" stroke="#c6c42a" stroke-width="0.7" />
<rect x="445.64" y="75.30" width="2.60" height="1.20" fill="#c6c42a"/>
<rect x="458.55" y="73.23" width="2.60" height="1.20" fill="#c6c42a"/>
<rect x="471.38" y="62.37" width="2.60" height="1.20" fill="#c6c42a"/>
<line x1="485.54" y1="59.35" x2="485.54" y2="51.08" stroke="#c6c42a" stroke-width="0.7" />
<line x1="484.09" y1="59.35" x2="486.99" y2="59.35" stroke="#c6c42a" stroke-width="0.7" />
<line x1="484.09" y1="51.08" x2="486.99" y2="51.08" stroke="#c6c42a" stroke-width="0.7" />
<rect x="484.24" y="54.62" width="2.60" height="1.20" fill="#c6c42a"/>
<rect x="497.07" y="37.55" width="2.60" height="1.20" fill="#c6c42a"/>
<rect x="509.90" y="29.80" width="2.60" height="1.20" fill="#c6c42a"/>
<line x1="522.60" y1="46.10" x2="530.10" y2="46.10" stroke="#e8262a" stroke-width="0.9" />
<circle cx="526.35" cy="46.10" r="1.10" fill="#e8262a"/>
<text x="534.00" y="48.10" font-size="5.35" text-anchor="start" font-weight="normal" fill="#1a1a1a" >A14</text>
<line x1="522.60" y1="55.66" x2="530.10" y2="55.66" stroke="#8a8a8a" stroke-width="0.9" />
<rect x="524.99" y="54.30" width="2.72" height="2.72" rx="0.68" fill="#fff" stroke="#8a8a8a" stroke-width="0.8"/>
<text x="534.00" y="57.66" font-size="5.35" text-anchor="start" font-weight="normal" fill="#1a1a1a" >A31</text>
<line x1="522.60" y1="65.22" x2="530.10" y2="65.22" stroke="#25a03a" stroke-width="0.9" />
<circle cx="526.35" cy="65.22" r="1.53" fill="#25a03a"/>
<text x="534.00" y="67.22" font-size="5.35" text-anchor="start" font-weight="normal" fill="#1a1a1a" >B13</text>
<line x1="522.60" y1="74.78" x2="530.10" y2="74.78" stroke="#3a4fb0" stroke-width="0.9" />
<path d="M526.35,72.91 L528.13,75.90 L524.57,75.90Z" fill="#3a4fb0"/>
<text x="534.00" y="76.78" font-size="5.35" text-anchor="start" font-weight="normal" fill="#1a1a1a" >B18</text>
<line x1="522.60" y1="84.34" x2="530.10" y2="84.34" stroke="#8e4fb5" stroke-width="0.9" />
<rect x="524.65" y="82.64" width="3.40" height="3.40" rx="0.6" fill="#8e4fb5"/>
<text x="534.00" y="86.34" font-size="5.35" text-anchor="start" font-weight="normal" fill="#1a1a1a" >C2</text>
<line x1="522.60" y1="93.90" x2="530.10" y2="93.90" stroke="#c6c42a" stroke-width="0.9" />
<rect x="525.25" y="93.39" width="2.21" height="1.02" fill="#c6c42a"/>
<text x="534.00" y="95.90" font-size="5.35" text-anchor="start" font-weight="normal" fill="#1a1a1a" >D11</text>
<text x="30.70" y="151.90" font-size="6.8" text-anchor="start" font-weight="normal" fill="#1a1a1a" >SARS-CoV-2 BA.4/5 pseudovirus neutralization</text>
<line x1="41.60" y1="162.10" x2="41.60" y2="234.90" stroke="#2a2a2a" stroke-width="0.9" />
<line x1="38.70" y1="162.10" x2="41.60" y2="162.10" stroke="#2a2a2a" stroke-width="0.8" />
<text transform="translate(37.30,164.35) scale(1,1.12)" font-size="5.6" text-anchor="end" font-weight="bold" fill="#1a1a1a" >100</text>
<line x1="38.70" y1="172.50" x2="41.60" y2="172.50" stroke="#2a2a2a" stroke-width="0.8" />
<text transform="translate(37.30,174.75) scale(1,1.12)" font-size="5.6" text-anchor="end" font-weight="bold" fill="#1a1a1a" >80</text>
<line x1="38.70" y1="182.90" x2="41.60" y2="182.90" stroke="#2a2a2a" stroke-width="0.8" />
<text transform="translate(37.30,185.15) scale(1,1.12)" font-size="5.6" text-anchor="end" font-weight="bold" fill="#1a1a1a" >60</text>
<line x1="38.70" y1="193.30" x2="41.60" y2="193.30" stroke="#2a2a2a" stroke-width="0.8" />
<text transform="translate(37.30,195.55) scale(1,1.12)" font-size="5.6" text-anchor="end" font-weight="bold" fill="#1a1a1a" >40</text>
<line x1="38.70" y1="203.70" x2="41.60" y2="203.70" stroke="#2a2a2a" stroke-width="0.8" />
<text transform="translate(37.30,205.95) scale(1,1.12)" font-size="5.6" text-anchor="end" font-weight="bold" fill="#1a1a1a" >20</text>
<line x1="38.70" y1="214.10" x2="41.60" y2="214.10" stroke="#2a2a2a" stroke-width="0.8" />
<text transform="translate(37.30,216.35) scale(1,1.12)" font-size="5.6" text-anchor="end" font-weight="bold" fill="#1a1a1a" >0</text>
<line x1="38.70" y1="224.50" x2="41.60" y2="224.50" stroke="#2a2a2a" stroke-width="0.8" />
<text transform="translate(37.30,226.75) scale(1,1.12)" font-size="5.6" text-anchor="end" font-weight="bold" fill="#1a1a1a" >-20</text>
<line x1="38.70" y1="234.90" x2="41.60" y2="234.90" stroke="#2a2a2a" stroke-width="0.8" />
<text transform="translate(37.30,237.15) scale(1,1.12)" font-size="5.6" text-anchor="end" font-weight="bold" fill="#1a1a1a" >-40</text>
<line x1="41.60" y1="234.90" x2="149.32" y2="234.90" stroke="#2a2a2a" stroke-width="0.9" />
<line x1="41.60" y1="234.90" x2="41.60" y2="237.40" stroke="#2a2a2a" stroke-width="0.8" />
<text transform="translate(41.00,243.60) scale(1,1.12)" font-size="5.6" text-anchor="middle" font-weight="bold" fill="#1a1a1a" >-3</text>
<line x1="68.53" y1="234.90" x2="68.53" y2="237.40" stroke="#2a2a2a" stroke-width="0.8" />
<text transform="translate(67.93,243.60) scale(1,1.12)" font-size="5.6" text-anchor="middle" font-weight="bold" fill="#1a1a1a" >-2</text>
<line x1="95.46" y1="234.90" x2="95.46" y2="237.40" stroke="#2a2a2a" stroke-width="0.8" />
<text transform="translate(94.86,243.60) scale(1,1.12)" font-size="5.6" text-anchor="middle" font-weight="bold" fill="#1a1a1a" >-1</text>
<line x1="122.39" y1="234.90" x2="122.39" y2="237.40" stroke="#2a2a2a" stroke-width="0.8" />
<text transform="translate(121.79,243.60) scale(1,1.12)" font-size="5.6" text-anchor="middle" font-weight="bold" fill="#1a1a1a" >0</text>
<line x1="149.32" y1="234.90" x2="149.32" y2="237.40" stroke="#2a2a2a" stroke-width="0.8" />
<text transform="translate(148.72,243.60) scale(1,1.12)" font-size="5.6" text-anchor="middle" font-weight="bold" fill="#1a1a1a" >1</text>
<line x1="41.60" y1="214.10" x2="149.32" y2="214.10" stroke="#333" stroke-width="0.75" stroke-dasharray="0.9 1.0"/>
<text transform="translate(25.50,198.50) rotate(-90)" font-size="6.3" font-weight="bold" text-anchor="middle" fill="#1a1a1a">Neutralization (%)</text>
<text x="47.30" y="253.10" font-size="6.25" font-weight="bold" fill="#1a1a1a">Log<tspan font-size="4.4" dx="0.2" dy="0.9">10</tspan><tspan dx="0.5" dy="-0.9">VHH concentration (μg/mL)</tspan></text>
<polyline points="51.29,218.48 52.04,218.47 52.79,218.47 53.54,218.46 54.29,218.46 55.04,218.45 55.79,218.45 56.54,218.44 57.29,218.43 58.04,218.42 58.79,218.41 59.54,218.40 60.29,218.39 61.04,218.38 61.79,218.36 62.53,218.35 63.28,218.33 64.03,218.31 64.78,218.29 65.53,218.26 66.28,218.24 67.03,218.21 67.78,218.18 68.53,218.15 69.28,218.11 70.03,218.07 70.78,218.02 71.53,217.97 72.28,217.92 73.03,217.86 73.77,217.79 74.52,217.72 75.27,217.64 76.02,217.55 76.77,217.46 77.52,217.35 78.27,217.23 79.02,217.11 79.77,216.97 80.52,216.82 81.27,216.65 82.02,216.47 82.77,216.27 83.52,216.06 84.27,215.82 85.01,215.56 85.76,215.28 86.51,214.97 87.26,214.64 88.01,214.28 88.76,213.88 89.51,213.46 90.26,213.00 91.01,212.50 91.76,211.96 92.51,211.39 93.26,210.77 94.01,210.10 94.76,209.39 95.51,208.63 96.25,207.82 97.00,206.96 97.75,206.05 98.50,205.10 99.25,204.09 100.00,203.03 100.75,201.93 101.50,200.78 102.25,199.59 103.00,198.37 103.75,197.10 104.50,195.81 105.25,194.50 106.00,193.16 106.75,191.82 107.49,190.46 108.24,189.11 108.99,187.76 109.74,186.42 110.49,185.10 111.24,183.80 111.99,182.54 112.74,181.30 113.49,180.10 114.24,178.94 114.99,177.83 115.74,176.77 116.49,175.75 117.24,174.78 117.98,173.86 118.73,172.99 119.48,172.17 120.23,171.40 120.98,170.68 121.73,170.00 122.48,169.37 123.23,168.78 123.98,168.24 124.73,167.73 125.48,167.26 126.23,166.83 126.98,166.43 127.73,166.06 128.48,165.72 129.22,165.41 129.97,165.12 130.72,164.86 131.47,164.62 132.22,164.39 132.97,164.19 133.72,164.01 134.47,163.84 135.22,163.68 135.97,163.54 136.72,163.41 137.47,163.29 138.22,163.19 138.97,163.09 139.72,163.00 140.46,162.92 141.21,162.85" fill="none" stroke="#e8262a" stroke-width="1.15"/>
<polyline points="51.29,214.27 52.04,214.27 52.79,214.26 53.54,214.25 54.29,214.24 55.04,214.23 55.79,214.22 56.54,214.21 57.29,214.20 58.04,214.18 58.79,214.17 59.54,214.15 60.29,214.13 61.04,214.12 61.79,214.09 62.53,214.07 63.28,214.05 64.03,214.02 64.78,214.00 65.53,213.97 66.28,213.93 67.03,213.90 67.78,213.86 68.53,213.82 69.28,213.77 70.03,213.72 70.78,213.67 71.53,213.62 72.28,213.55 73.03,213.49 73.77,213.42 74.52,213.34 75.27,213.26 76.02,213.17 76.77,213.07 77.52,212.97 78.27,212.85 79.02,212.73 79.77,212.60 80.52,212.46 81.27,212.31 82.02,212.14 82.77,211.97 83.52,211.78 84.27,211.57 85.01,211.35 85.76,211.12 86.51,210.87 87.26,210.60 88.01,210.31 88.76,210.00 89.51,209.67 90.26,209.31 91.01,208.94 91.76,208.54 92.51,208.11 93.26,207.66 94.01,207.17 94.76,206.66 95.51,206.13 96.25,205.56 97.00,204.96 97.75,204.32 98.50,203.66 99.25,202.96 100.00,202.24 100.75,201.48 101.50,200.69 102.25,199.87 103.00,199.02 103.75,198.14 104.50,197.23 105.25,196.30 106.00,195.35 106.75,194.38 107.49,193.39 108.24,192.38 108.99,191.36 109.74,190.34 110.49,189.30 111.24,188.27 111.99,187.23 112.74,186.20 113.49,185.18 114.24,184.16 114.99,183.16 115.74,182.18 116.49,181.22 117.24,180.27 117.98,179.35 118.73,178.46 119.48,177.59 120.23,176.76 120.98,175.95 121.73,175.17 122.48,174.43 123.23,173.71 123.98,173.03 124.73,172.38 125.48,171.76 126.23,171.17 126.98,170.62 127.73,170.09 128.48,169.59 129.22,169.12 129.97,168.68 130.72,168.27 131.47,167.88 132.22,167.51 132.97,167.17 133.72,166.85 134.47,166.55 135.22,166.26 135.97,166.00 136.72,165.76 137.47,165.53 138.22,165.32 138.97,165.12 139.72,164.94 140.46,164.77 141.21,164.61" fill="none" stroke="#8a8a8a" stroke-width="1.15"/>
<polyline points="51.29,219.53 52.04,219.52 52.79,219.52 53.54,219.52 54.29,219.51 55.04,219.51 55.79,219.50 56.54,219.50 57.29,219.49 58.04,219.49 58.79,219.48 59.54,219.47 60.29,219.47 61.04,219.46 61.79,219.45 62.53,219.44 63.28,219.43 64.03,219.41 64.78,219.40 65.53,219.38 66.28,219.37 67.03,219.35 67.78,219.33 68.53,219.31 69.28,219.28 70.03,219.26 70.78,219.23 71.53,219.20 72.28,219.17 73.03,219.13 73.77,219.09 74.52,219.05 75.27,219.00 76.02,218.95 76.77,218.89 77.52,218.83 78.27,218.76 79.02,218.68 79.77,218.60 80.52,218.52 81.27,218.42 82.02,218.32 82.77,218.20 83.52,218.08 84.27,217.94 85.01,217.80 85.76,217.64 86.51,217.46 87.26,217.27 88.01,217.07 88.76,216.84 89.51,216.60 90.26,216.34 91.01,216.06 91.76,215.75 92.51,215.42 93.26,215.06 94.01,214.67 94.76,214.26 95.51,213.81 96.25,213.33 97.00,212.82 97.75,212.26 98.50,211.67 99.25,211.04 100.00,210.37 100.75,209.66 101.50,208.91 102.25,208.11 103.00,207.27 103.75,206.38 104.50,205.45 105.25,204.48 106.00,203.46 106.75,202.41 107.49,201.31 108.24,200.18 108.99,199.02 109.74,197.83 110.49,196.61 111.24,195.37 111.99,194.12 112.74,192.85 113.49,191.57 114.24,190.30 114.99,189.02 115.74,187.76 116.49,186.51 117.24,185.27 117.98,184.06 118.73,182.88 119.48,181.72 120.23,180.60 120.98,179.51 121.73,178.47 122.48,177.46 123.23,176.50 123.98,175.58 124.73,174.70 125.48,173.87 126.23,173.08 126.98,172.34 127.73,171.64 128.48,170.98 129.22,170.36 129.97,169.78 130.72,169.24 131.47,168.73 132.22,168.26 132.97,167.82 133.72,167.41 134.47,167.03 135.22,166.68 135.97,166.35 136.72,166.05 137.47,165.77 138.22,165.52 138.97,165.28 139.72,165.06 140.46,164.86 141.21,164.68" fill="none" stroke="#25a03a" stroke-width="1.15"/>
<polyline points="51.29,217.21 52.04,217.21 52.79,217.21 53.54,217.21 54.29,217.21 55.04,217.20 55.79,217.20 56.54,217.20 57.29,217.20 58.04,217.20 58.79,217.19 59.54,217.19 60.29,217.19 61.04,217.18 61.79,217.18 62.53,217.17 63.28,217.17 64.03,217.16 64.78,217.16 65.53,217.15 66.28,217.14 67.03,217.14 67.78,217.13 68.53,217.12 69.28,217.10 70.03,217.09 70.78,217.08 71.53,217.06 72.28,217.05 73.03,217.03 73.77,217.01 74.52,216.98 75.27,216.96 76.02,216.93 76.77,216.90 77.52,216.87 78.27,216.83 79.02,216.79 79.77,216.74 80.52,216.69 81.27,216.63 82.02,216.57 82.77,216.50 83.52,216.42 84.27,216.34 85.01,216.25 85.76,216.14 86.51,216.03 87.26,215.90 88.01,215.76 88.76,215.61 89.51,215.44 90.26,215.26 91.01,215.06 91.76,214.83 92.51,214.59 93.26,214.32 94.01,214.02 94.76,213.70 95.51,213.35 96.25,212.96 97.00,212.54 97.75,212.09 98.50,211.59 99.25,211.05 100.00,210.46 100.75,209.83 101.50,209.15 102.25,208.42 103.00,207.64 103.75,206.80 104.50,205.91 105.25,204.97 106.00,203.96 106.75,202.91 107.49,201.80 108.24,200.64 108.99,199.43 109.74,198.18 110.49,196.89 111.24,195.57 111.99,194.22 112.74,192.84 113.49,191.45 114.24,190.06 114.99,188.66 115.74,187.27 116.49,185.89 117.24,184.53 117.98,183.20 118.73,181.90 119.48,180.64 120.23,179.43 120.98,178.26 121.73,177.14 122.48,176.08 123.23,175.06 123.98,174.11 124.73,173.20 125.48,172.36 126.23,171.56 126.98,170.82 127.73,170.13 128.48,169.49 129.22,168.90 129.97,168.35 130.72,167.85 131.47,167.38 132.22,166.96 132.97,166.56 133.72,166.21 134.47,165.88 135.22,165.58 135.97,165.30 136.72,165.05 137.47,164.83 138.22,164.62 138.97,164.43 139.72,164.26 140.46,164.10 141.21,163.96" fill="none" stroke="#3a4fb0" stroke-width="1.15"/>
<polyline points="51.29,218.51 52.04,218.51 52.79,218.51 53.54,218.51 54.29,218.51 55.04,218.51 55.79,218.51 56.54,218.51 57.29,218.50 58.04,218.50 58.79,218.50 59.54,218.50 60.29,218.50 61.04,218.50 61.79,218.49 62.53,218.49 63.28,218.49 64.03,218.49 64.78,218.49 65.53,218.48 66.28,218.48 67.03,218.48 67.78,218.47 68.53,218.47 69.28,218.47 70.03,218.46 70.78,218.46 71.53,218.45 72.28,218.45 73.03,218.44 73.77,218.43 74.52,218.43 75.27,218.42 76.02,218.41 76.77,218.40 77.52,218.39 78.27,218.38 79.02,218.37 79.77,218.36 80.52,218.35 81.27,218.33 82.02,218.32 82.77,218.30 83.52,218.28 84.27,218.27 85.01,218.25 85.76,218.22 86.51,218.20 87.26,218.18 88.01,218.15 88.76,218.12 89.51,218.09 90.26,218.05 91.01,218.02 91.76,217.97 92.51,217.93 93.26,217.89 94.01,217.84 94.76,217.78 95.51,217.72 96.25,217.66 97.00,217.59 97.75,217.52 98.50,217.44 99.25,217.36 100.00,217.26 100.75,217.17 101.50,217.06 102.25,216.95 103.00,216.82 103.75,216.69 104.50,216.55 105.25,216.40 106.00,216.23 106.75,216.06 107.49,215.87 108.24,215.67 108.99,215.45 109.74,215.21 110.49,214.96 111.24,214.70 111.99,214.41 112.74,214.10 113.49,213.77 114.24,213.42 114.99,213.05 115.74,212.65 116.49,212.23 117.24,211.77 117.98,211.29 118.73,210.78 119.48,210.24 120.23,209.67 120.98,209.06 121.73,208.42 122.48,207.74 123.23,207.03 123.98,206.28 124.73,205.49 125.48,204.67 126.23,203.80 126.98,202.90 127.73,201.96 128.48,200.99 129.22,199.97 129.97,198.93 130.72,197.84 131.47,196.73 132.22,195.59 132.97,194.42 133.72,193.22 134.47,192.00 135.22,190.76 135.97,189.51 136.72,188.24 137.47,186.96 138.22,185.68 138.97,184.39 139.72,183.11 140.46,181.84 141.21,180.57" fill="none" stroke="#8e4fb5" stroke-width="1.15"/>
<line x1="51.29" y1="220.86" x2="51.29" y2="216.70" stroke="#e8262a" stroke-width="0.7" />
<line x1="49.84" y1="220.86" x2="52.74" y2="220.86" stroke="#e8262a" stroke-width="0.7" />
<line x1="49.84" y1="216.70" x2="52.74" y2="216.70" stroke="#e8262a" stroke-width="0.7" />
<circle cx="51.29" cy="218.78" r="1.30" fill="#e8262a"/>
<line x1="64.22" y1="220.86" x2="64.22" y2="216.70" stroke="#e8262a" stroke-width="0.7" />
<line x1="62.77" y1="220.86" x2="65.67" y2="220.86" stroke="#e8262a" stroke-width="0.7" />
<line x1="62.77" y1="216.70" x2="65.67" y2="216.70" stroke="#e8262a" stroke-width="0.7" />
<circle cx="64.22" cy="218.78" r="1.30" fill="#e8262a"/>
<line x1="76.88" y1="220.34" x2="76.88" y2="216.18" stroke="#e8262a" stroke-width="0.7" />
<line x1="75.43" y1="220.34" x2="78.33" y2="220.34" stroke="#e8262a" stroke-width="0.7" />
<line x1="75.43" y1="216.18" x2="78.33" y2="216.18" stroke="#e8262a" stroke-width="0.7" />
<circle cx="76.88" cy="218.26" r="1.30" fill="#e8262a"/>
<line x1="89.80" y1="214.62" x2="89.80" y2="210.46" stroke="#e8262a" stroke-width="0.7" />
<line x1="88.35" y1="214.62" x2="91.25" y2="214.62" stroke="#e8262a" stroke-width="0.7" />
<line x1="88.35" y1="210.46" x2="91.25" y2="210.46" stroke="#e8262a" stroke-width="0.7" />
<circle cx="89.80" cy="212.54" r="1.30" fill="#e8262a"/>
<line x1="102.65" y1="199.54" x2="102.65" y2="192.26" stroke="#e8262a" stroke-width="0.7" />
<line x1="101.20" y1="199.54" x2="104.10" y2="199.54" stroke="#e8262a" stroke-width="0.7" />
<line x1="101.20" y1="192.26" x2="104.10" y2="192.26" stroke="#e8262a" stroke-width="0.7" />
<circle cx="102.65" cy="195.90" r="1.30" fill="#e8262a"/>
<line x1="115.52" y1="181.86" x2="115.52" y2="178.74" stroke="#e8262a" stroke-width="0.7" />
<line x1="114.07" y1="181.86" x2="116.97" y2="181.86" stroke="#e8262a" stroke-width="0.7" />
<line x1="114.07" y1="178.74" x2="116.97" y2="178.74" stroke="#e8262a" stroke-width="0.7" />
<circle cx="115.52" cy="180.30" r="1.30" fill="#e8262a"/>
<line x1="128.37" y1="169.38" x2="128.37" y2="166.26" stroke="#e8262a" stroke-width="0.7" />
<line x1="126.92" y1="169.38" x2="129.82" y2="169.38" stroke="#e8262a" stroke-width="0.7" />
<line x1="126.92" y1="166.26" x2="129.82" y2="166.26" stroke="#e8262a" stroke-width="0.7" />
<circle cx="128.37" cy="167.82" r="1.30" fill="#e8262a"/>
<circle cx="141.21" cy="162.88" r="1.30" fill="#e8262a"/>
<line x1="51.29" y1="217.74" x2="51.29" y2="211.50" stroke="#8a8a8a" stroke-width="0.7" />
<line x1="49.84" y1="217.74" x2="52.74" y2="217.74" stroke="#8a8a8a" stroke-width="0.7" />
<line x1="49.84" y1="211.50" x2="52.74" y2="211.50" stroke="#8a8a8a" stroke-width="0.7" />
<rect x="49.69" y="213.02" width="3.20" height="3.20" rx="0.80" fill="#fff" stroke="#8a8a8a" stroke-width="0.8"/>
<line x1="64.22" y1="216.96" x2="64.22" y2="211.76" stroke="#8a8a8a" stroke-width="0.7" />
<line x1="62.77" y1="216.96" x2="65.67" y2="216.96" stroke="#8a8a8a" stroke-width="0.7" />
<line x1="62.77" y1="211.76" x2="65.67" y2="211.76" stroke="#8a8a8a" stroke-width="0.7" />
<rect x="62.62" y="212.76" width="3.20" height="3.20" rx="0.80" fill="#fff" stroke="#8a8a8a" stroke-width="0.8"/>
<line x1="76.88" y1="213.58" x2="76.88" y2="209.42" stroke="#8a8a8a" stroke-width="0.7" />
<line x1="75.43" y1="213.58" x2="78.33" y2="213.58" stroke="#8a8a8a" stroke-width="0.7" />
<line x1="75.43" y1="209.42" x2="78.33" y2="209.42" stroke="#8a8a8a" stroke-width="0.7" />
<rect x="75.28" y="209.90" width="3.20" height="3.20" rx="0.80" fill="#fff" stroke="#8a8a8a" stroke-width="0.8"/>
<line x1="89.80" y1="208.90" x2="89.80" y2="205.78" stroke="#8a8a8a" stroke-width="0.7" />
<line x1="88.35" y1="208.90" x2="91.25" y2="208.90" stroke="#8a8a8a" stroke-width="0.7" />
<line x1="88.35" y1="205.78" x2="91.25" y2="205.78" stroke="#8a8a8a" stroke-width="0.7" />
<rect x="88.20" y="205.74" width="3.20" height="3.20" rx="0.80" fill="#fff" stroke="#8a8a8a" stroke-width="0.8"/>
<line x1="102.65" y1="200.06" x2="102.65" y2="196.94" stroke="#8a8a8a" stroke-width="0.7" />
<line x1="101.20" y1="200.06" x2="104.10" y2="200.06" stroke="#8a8a8a" stroke-width="0.7" />
<line x1="101.20" y1="196.94" x2="104.10" y2="196.94" stroke="#8a8a8a" stroke-width="0.7" />
<rect x="101.05" y="196.90" width="3.20" height="3.20" rx="0.80" fill="#fff" stroke="#8a8a8a" stroke-width="0.8"/>
<line x1="115.52" y1="184.46" x2="115.52" y2="181.34" stroke="#8a8a8a" stroke-width="0.7" />
<line x1="114.07" y1="184.46" x2="116.97" y2="184.46" stroke="#8a8a8a" stroke-width="0.7" />
<line x1="114.07" y1="181.34" x2="116.97" y2="181.34" stroke="#8a8a8a" stroke-width="0.7" />
<rect x="113.92" y="181.30" width="3.20" height="3.20" rx="0.80" fill="#fff" stroke="#8a8a8a" stroke-width="0.8"/>
<line x1="128.37" y1="170.94" x2="128.37" y2="167.82" stroke="#8a8a8a" stroke-width="0.7" />
<line x1="126.92" y1="170.94" x2="129.82" y2="170.94" stroke="#8a8a8a" stroke-width="0.7" />
<line x1="126.92" y1="167.82" x2="129.82" y2="167.82" stroke="#8a8a8a" stroke-width="0.7" />
<rect x="126.77" y="167.78" width="3.20" height="3.20" rx="0.80" fill="#fff" stroke="#8a8a8a" stroke-width="0.8"/>
<line x1="141.21" y1="165.22" x2="141.21" y2="163.14" stroke="#8a8a8a" stroke-width="0.7" />
<line x1="139.76" y1="165.22" x2="142.66" y2="165.22" stroke="#8a8a8a" stroke-width="0.7" />
<line x1="139.76" y1="163.14" x2="142.66" y2="163.14" stroke="#8a8a8a" stroke-width="0.7" />
<rect x="139.61" y="162.58" width="3.20" height="3.20" rx="0.80" fill="#fff" stroke="#8a8a8a" stroke-width="0.8"/>
<line x1="51.29" y1="221.90" x2="51.29" y2="208.38" stroke="#25a03a" stroke-width="0.7" />
<line x1="49.84" y1="221.90" x2="52.74" y2="221.90" stroke="#25a03a" stroke-width="0.7" />
<line x1="49.84" y1="208.38" x2="52.74" y2="208.38" stroke="#25a03a" stroke-width="0.7" />
<circle cx="51.29" cy="215.14" r="1.80" fill="#25a03a"/>
<line x1="64.22" y1="224.86" x2="64.22" y2="217.58" stroke="#25a03a" stroke-width="0.7" />
<line x1="62.77" y1="224.86" x2="65.67" y2="224.86" stroke="#25a03a" stroke-width="0.7" />
<line x1="62.77" y1="217.58" x2="65.67" y2="217.58" stroke="#25a03a" stroke-width="0.7" />
<circle cx="64.22" cy="221.22" r="1.80" fill="#25a03a"/>
<line x1="76.88" y1="226.42" x2="76.88" y2="218.10" stroke="#25a03a" stroke-width="0.7" />
<line x1="75.43" y1="226.42" x2="78.33" y2="226.42" stroke="#25a03a" stroke-width="0.7" />
<line x1="75.43" y1="218.10" x2="78.33" y2="218.10" stroke="#25a03a" stroke-width="0.7" />
<circle cx="76.88" cy="222.26" r="1.80" fill="#25a03a"/>
<line x1="89.80" y1="218.26" x2="89.80" y2="213.06" stroke="#25a03a" stroke-width="0.7" />
<line x1="88.35" y1="218.26" x2="91.25" y2="218.26" stroke="#25a03a" stroke-width="0.7" />
<line x1="88.35" y1="213.06" x2="91.25" y2="213.06" stroke="#25a03a" stroke-width="0.7" />
<circle cx="89.80" cy="215.66" r="1.80" fill="#25a03a"/>
<line x1="102.65" y1="207.34" x2="102.65" y2="202.14" stroke="#25a03a" stroke-width="0.7" />
<line x1="101.20" y1="207.34" x2="104.10" y2="207.34" stroke="#25a03a" stroke-width="0.7" />
<line x1="101.20" y1="202.14" x2="104.10" y2="202.14" stroke="#25a03a" stroke-width="0.7" />
<circle cx="102.65" cy="204.74" r="1.80" fill="#25a03a"/>
<line x1="115.52" y1="190.70" x2="115.52" y2="186.54" stroke="#25a03a" stroke-width="0.7" />
<line x1="114.07" y1="190.70" x2="116.97" y2="190.70" stroke="#25a03a" stroke-width="0.7" />
<line x1="114.07" y1="186.54" x2="116.97" y2="186.54" stroke="#25a03a" stroke-width="0.7" />
<circle cx="115.52" cy="188.62" r="1.80" fill="#25a03a"/>
<line x1="128.37" y1="175.10" x2="128.37" y2="171.98" stroke="#25a03a" stroke-width="0.7" />
<line x1="126.92" y1="175.10" x2="129.82" y2="175.10" stroke="#25a03a" stroke-width="0.7" />
<line x1="126.92" y1="171.98" x2="129.82" y2="171.98" stroke="#25a03a" stroke-width="0.7" />
<circle cx="128.37" cy="173.54" r="1.80" fill="#25a03a"/>
<line x1="141.21" y1="166.26" x2="141.21" y2="164.18" stroke="#25a03a" stroke-width="0.7" />
<line x1="139.76" y1="166.26" x2="142.66" y2="166.26" stroke="#25a03a" stroke-width="0.7" />
<line x1="139.76" y1="164.18" x2="142.66" y2="164.18" stroke="#25a03a" stroke-width="0.7" />
<circle cx="141.21" cy="165.22" r="1.80" fill="#25a03a"/>
<line x1="51.29" y1="219.30" x2="51.29" y2="215.14" stroke="#3a4fb0" stroke-width="0.7" />
<line x1="49.84" y1="219.30" x2="52.74" y2="219.30" stroke="#3a4fb0" stroke-width="0.7" />
<line x1="49.84" y1="215.14" x2="52.74" y2="215.14" stroke="#3a4fb0" stroke-width="0.7" />
<path d="M51.29,215.02 L53.38,218.54 L49.20,218.54Z" fill="#3a4fb0"/>
<line x1="64.22" y1="220.34" x2="64.22" y2="215.14" stroke="#3a4fb0" stroke-width="0.7" />
<line x1="62.77" y1="220.34" x2="65.67" y2="220.34" stroke="#3a4fb0" stroke-width="0.7" />
<line x1="62.77" y1="215.14" x2="65.67" y2="215.14" stroke="#3a4fb0" stroke-width="0.7" />
<path d="M64.22,215.54 L66.31,219.06 L62.13,219.06Z" fill="#3a4fb0"/>
<line x1="76.88" y1="220.34" x2="76.88" y2="216.18" stroke="#3a4fb0" stroke-width="0.7" />
<line x1="75.43" y1="220.34" x2="78.33" y2="220.34" stroke="#3a4fb0" stroke-width="0.7" />
<line x1="75.43" y1="216.18" x2="78.33" y2="216.18" stroke="#3a4fb0" stroke-width="0.7" />
<path d="M76.88,216.06 L78.97,219.58 L74.79,219.58Z" fill="#3a4fb0"/>
<line x1="89.80" y1="219.30" x2="89.80" y2="215.14" stroke="#3a4fb0" stroke-width="0.7" />
<line x1="88.35" y1="219.30" x2="91.25" y2="219.30" stroke="#3a4fb0" stroke-width="0.7" />
<line x1="88.35" y1="215.14" x2="91.25" y2="215.14" stroke="#3a4fb0" stroke-width="0.7" />
<path d="M89.80,215.02 L91.89,218.54 L87.71,218.54Z" fill="#3a4fb0"/>
<line x1="102.65" y1="210.46" x2="102.65" y2="205.26" stroke="#3a4fb0" stroke-width="0.7" />
<line x1="101.20" y1="210.46" x2="104.10" y2="210.46" stroke="#3a4fb0" stroke-width="0.7" />
<line x1="101.20" y1="205.26" x2="104.10" y2="205.26" stroke="#3a4fb0" stroke-width="0.7" />
<path d="M102.65,205.66 L104.74,209.18 L100.56,209.18Z" fill="#3a4fb0"/>
<line x1="115.52" y1="192.26" x2="115.52" y2="187.06" stroke="#3a4fb0" stroke-width="0.7" />
<line x1="114.07" y1="192.26" x2="116.97" y2="192.26" stroke="#3a4fb0" stroke-width="0.7" />
<line x1="114.07" y1="187.06" x2="116.97" y2="187.06" stroke="#3a4fb0" stroke-width="0.7" />
<path d="M115.52,187.46 L117.61,190.98 L113.43,190.98Z" fill="#3a4fb0"/>
<line x1="128.37" y1="170.94" x2="128.37" y2="167.82" stroke="#3a4fb0" stroke-width="0.7" />
<line x1="126.92" y1="170.94" x2="129.82" y2="170.94" stroke="#3a4fb0" stroke-width="0.7" />
<line x1="126.92" y1="167.82" x2="129.82" y2="167.82" stroke="#3a4fb0" stroke-width="0.7" />
<path d="M128.37,167.18 L130.46,170.70 L126.28,170.70Z" fill="#3a4fb0"/>
<line x1="141.21" y1="165.74" x2="141.21" y2="163.66" stroke="#3a4fb0" stroke-width="0.7" />
<line x1="139.76" y1="165.74" x2="142.66" y2="165.74" stroke="#3a4fb0" stroke-width="0.7" />
<line x1="139.76" y1="163.66" x2="142.66" y2="163.66" stroke="#3a4fb0" stroke-width="0.7" />
<path d="M141.21,162.50 L143.30,166.02 L139.12,166.02Z" fill="#3a4fb0"/>
<line x1="51.29" y1="223.72" x2="51.29" y2="217.48" stroke="#8e4fb5" stroke-width="0.7" />
<line x1="49.84" y1="223.72" x2="52.74" y2="223.72" stroke="#8e4fb5" stroke-width="0.7" />
<line x1="49.84" y1="217.48" x2="52.74" y2="217.48" stroke="#8e4fb5" stroke-width="0.7" />
<rect x="49.29" y="218.60" width="4.00" height="4.00" rx="0.6" fill="#8e4fb5"/>
<line x1="64.22" y1="221.90" x2="64.22" y2="215.66" stroke="#8e4fb5" stroke-width="0.7" />
<line x1="62.77" y1="221.90" x2="65.67" y2="221.90" stroke="#8e4fb5" stroke-width="0.7" />
<line x1="62.77" y1="215.66" x2="65.67" y2="215.66" stroke="#8e4fb5" stroke-width="0.7" />
<rect x="62.22" y="216.78" width="4.00" height="4.00" rx="0.6" fill="#8e4fb5"/>
<line x1="76.88" y1="221.90" x2="76.88" y2="216.70" stroke="#8e4fb5" stroke-width="0.7" />
<line x1="75.43" y1="221.90" x2="78.33" y2="221.90" stroke="#8e4fb5" stroke-width="0.7" />
<line x1="75.43" y1="216.70" x2="78.33" y2="216.70" stroke="#8e4fb5" stroke-width="0.7" />
<rect x="74.88" y="217.30" width="4.00" height="4.00" rx="0.6" fill="#8e4fb5"/>
<line x1="89.80" y1="223.15" x2="89.80" y2="215.87" stroke="#8e4fb5" stroke-width="0.7" />
<line x1="88.35" y1="223.15" x2="91.25" y2="223.15" stroke="#8e4fb5" stroke-width="0.7" />
<line x1="88.35" y1="215.87" x2="91.25" y2="215.87" stroke="#8e4fb5" stroke-width="0.7" />
<rect x="87.80" y="217.51" width="4.00" height="4.00" rx="0.6" fill="#8e4fb5"/>
<line x1="102.65" y1="219.30" x2="102.65" y2="213.06" stroke="#8e4fb5" stroke-width="0.7" />
<line x1="101.20" y1="219.30" x2="104.10" y2="219.30" stroke="#8e4fb5" stroke-width="0.7" />
<line x1="101.20" y1="213.06" x2="104.10" y2="213.06" stroke="#8e4fb5" stroke-width="0.7" />
<rect x="100.65" y="214.18" width="4.00" height="4.00" rx="0.6" fill="#8e4fb5"/>
<line x1="115.52" y1="212.18" x2="115.52" y2="210.10" stroke="#8e4fb5" stroke-width="0.7" />
<line x1="114.07" y1="212.18" x2="116.97" y2="212.18" stroke="#8e4fb5" stroke-width="0.7" />
<line x1="114.07" y1="210.10" x2="116.97" y2="210.10" stroke="#8e4fb5" stroke-width="0.7" />
<rect x="113.52" y="209.14" width="4.00" height="4.00" rx="0.6" fill="#8e4fb5"/>
<line x1="128.37" y1="206.46" x2="128.37" y2="199.18" stroke="#8e4fb5" stroke-width="0.7" />
<line x1="126.92" y1="206.46" x2="129.82" y2="206.46" stroke="#8e4fb5" stroke-width="0.7" />
<line x1="126.92" y1="199.18" x2="129.82" y2="199.18" stroke="#8e4fb5" stroke-width="0.7" />
<rect x="126.37" y="200.82" width="4.00" height="4.00" rx="0.6" fill="#8e4fb5"/>
<line x1="141.21" y1="184.98" x2="141.21" y2="180.82" stroke="#8e4fb5" stroke-width="0.7" />
<line x1="139.76" y1="184.98" x2="142.66" y2="184.98" stroke="#8e4fb5" stroke-width="0.7" />
<line x1="139.76" y1="180.82" x2="142.66" y2="180.82" stroke="#8e4fb5" stroke-width="0.7" />
<rect x="139.21" y="180.90" width="4.00" height="4.00" rx="0.6" fill="#8e4fb5"/>
<line x1="151.70" y1="181.80" x2="159.20" y2="181.80" stroke="#e8262a" stroke-width="0.9" />
<circle cx="155.45" cy="181.80" r="1.10" fill="#e8262a"/>
<text x="162.40" y="183.80" font-size="5.35" text-anchor="start" font-weight="normal" fill="#1a1a1a" >A14</text>
<line x1="151.70" y1="190.60" x2="159.20" y2="190.60" stroke="#8a8a8a" stroke-width="0.9" />
<rect x="154.09" y="189.24" width="2.72" height="2.72" rx="0.68" fill="#fff" stroke="#8a8a8a" stroke-width="0.8"/>
<text x="162.40" y="192.60" font-size="5.35" text-anchor="start" font-weight="normal" fill="#1a1a1a" >A31</text>
<line x1="151.70" y1="199.40" x2="159.20" y2="199.40" stroke="#25a03a" stroke-width="0.9" />
<circle cx="155.45" cy="199.40" r="1.53" fill="#25a03a"/>
<text x="162.40" y="201.40" font-size="5.35" text-anchor="start" font-weight="normal" fill="#1a1a1a" >B13</text>
<line x1="151.70" y1="208.20" x2="159.20" y2="208.20" stroke="#3a4fb0" stroke-width="0.9" />
<path d="M155.45,206.33 L157.23,209.32 L153.67,209.32Z" fill="#3a4fb0"/>
<text x="162.40" y="210.20" font-size="5.35" text-anchor="start" font-weight="normal" fill="#1a1a1a" >B18</text>
<line x1="151.70" y1="217.00" x2="159.20" y2="217.00" stroke="#8e4fb5" stroke-width="0.9" />
<rect x="153.75" y="215.30" width="3.40" height="3.40" rx="0.6" fill="#8e4fb5"/>
<text x="162.40" y="219.00" font-size="5.35" text-anchor="start" font-weight="normal" fill="#1a1a1a" >C2</text>
<text x="235.20" y="152.00" font-size="6.8" text-anchor="start" font-weight="normal" fill="#1a1a1a" >SARS-CoV-2 BQ.1.1 pseudovirus neutralization</text>
<line x1="246.60" y1="162.10" x2="246.60" y2="235.32" stroke="#2a2a2a" stroke-width="0.9" />
<line x1="243.70" y1="162.10" x2="246.60" y2="162.10" stroke="#2a2a2a" stroke-width="0.8" />
<text transform="translate(242.30,164.35) scale(1,1.12)" font-size="5.6" text-anchor="end" font-weight="bold" fill="#1a1a1a" >100</text>
<line x1="243.70" y1="172.56" x2="246.60" y2="172.56" stroke="#2a2a2a" stroke-width="0.8" />
<text transform="translate(242.30,174.81) scale(1,1.12)" font-size="5.6" text-anchor="end" font-weight="bold" fill="#1a1a1a" >80</text>
<line x1="243.70" y1="183.02" x2="246.60" y2="183.02" stroke="#2a2a2a" stroke-width="0.8" />
<text transform="translate(242.30,185.27) scale(1,1.12)" font-size="5.6" text-anchor="end" font-weight="bold" fill="#1a1a1a" >60</text>
<line x1="243.70" y1="193.48" x2="246.60" y2="193.48" stroke="#2a2a2a" stroke-width="0.8" />
<text transform="translate(242.30,195.73) scale(1,1.12)" font-size="5.6" text-anchor="end" font-weight="bold" fill="#1a1a1a" >40</text>
<line x1="243.70" y1="203.94" x2="246.60" y2="203.94" stroke="#2a2a2a" stroke-width="0.8" />
<text transform="translate(242.30,206.19) scale(1,1.12)" font-size="5.6" text-anchor="end" font-weight="bold" fill="#1a1a1a" >20</text>
<line x1="243.70" y1="214.40" x2="246.60" y2="214.40" stroke="#2a2a2a" stroke-width="0.8" />
<text transform="translate(242.30,216.65) scale(1,1.12)" font-size="5.6" text-anchor="end" font-weight="bold" fill="#1a1a1a" >0</text>
<line x1="243.70" y1="224.86" x2="246.60" y2="224.86" stroke="#2a2a2a" stroke-width="0.8" />
<text transform="translate(242.30,227.11) scale(1,1.12)" font-size="5.6" text-anchor="end" font-weight="bold" fill="#1a1a1a" >-20</text>
<line x1="243.70" y1="235.32" x2="246.60" y2="235.32" stroke="#2a2a2a" stroke-width="0.8" />
<text transform="translate(242.30,237.57) scale(1,1.12)" font-size="5.6" text-anchor="end" font-weight="bold" fill="#1a1a1a" >-40</text>
<line x1="246.60" y1="235.32" x2="353.92" y2="235.32" stroke="#2a2a2a" stroke-width="0.9" />
<line x1="246.60" y1="235.32" x2="246.60" y2="237.82" stroke="#2a2a2a" stroke-width="0.8" />
<text transform="translate(246.00,243.80) scale(1,1.12)" font-size="5.6" text-anchor="middle" font-weight="bold" fill="#1a1a1a" >-3</text>
<line x1="273.43" y1="235.32" x2="273.43" y2="237.82" stroke="#2a2a2a" stroke-width="0.8" />
<text transform="translate(272.83,243.80) scale(1,1.12)" font-size="5.6" text-anchor="middle" font-weight="bold" fill="#1a1a1a" >-2</text>
<line x1="300.26" y1="235.32" x2="300.26" y2="237.82" stroke="#2a2a2a" stroke-width="0.8" />
<text transform="translate(299.66,243.80) scale(1,1.12)" font-size="5.6" text-anchor="middle" font-weight="bold" fill="#1a1a1a" >-1</text>
<line x1="327.09" y1="235.32" x2="327.09" y2="237.82" stroke="#2a2a2a" stroke-width="0.8" />
<text transform="translate(326.49,243.80) scale(1,1.12)" font-size="5.6" text-anchor="middle" font-weight="bold" fill="#1a1a1a" >0</text>
<line x1="353.92" y1="235.32" x2="353.92" y2="237.82" stroke="#2a2a2a" stroke-width="0.8" />
<text transform="translate(353.32,243.80) scale(1,1.12)" font-size="5.6" text-anchor="middle" font-weight="bold" fill="#1a1a1a" >1</text>
<line x1="246.60" y1="214.40" x2="353.92" y2="214.40" stroke="#333" stroke-width="0.75" stroke-dasharray="0.9 1.0"/>
<text transform="translate(230.00,198.71) rotate(-90)" font-size="6.3" font-weight="bold" text-anchor="middle" fill="#1a1a1a">Neutralization (%)</text>
<text x="252.00" y="253.10" font-size="6.25" font-weight="bold" fill="#1a1a1a">Log<tspan font-size="4.4" dx="0.2" dy="0.9">10</tspan><tspan dx="0.5" dy="-0.9">VHH concentration (μg/mL)</tspan></text>
<polyline points="256.26,214.37 257.01,214.37 257.75,214.37 258.50,214.37 259.24,214.36 259.99,214.36 260.74,214.35 261.48,214.35 262.23,214.34 262.98,214.34 263.72,214.33 264.47,214.33 265.22,214.32 265.96,214.31 266.71,214.30 267.46,214.29 268.20,214.28 268.95,214.26 269.70,214.25 270.44,214.24 271.19,214.22 271.94,214.20 272.68,214.18 273.43,214.15 274.18,214.13 274.92,214.10 275.67,214.07 276.42,214.04 277.16,214.00 277.91,213.96 278.66,213.91 279.40,213.86 280.15,213.81 280.89,213.74 281.64,213.68 282.39,213.60 283.13,213.52 283.88,213.43 284.63,213.33 285.37,213.22 286.12,213.10 286.87,212.97 287.61,212.82 288.36,212.67 289.11,212.49 289.85,212.30 290.60,212.09 291.35,211.86 292.09,211.61 292.84,211.34 293.59,211.04 294.33,210.71 295.08,210.36 295.83,209.97 296.57,209.55 297.32,209.09 298.07,208.60 298.81,208.07 299.56,207.50 300.30,206.88 301.05,206.22 301.80,205.51 302.54,204.76 303.29,203.95 304.04,203.10 304.78,202.19 305.53,201.24 306.28,200.24 307.02,199.19 307.77,198.10 308.52,196.97 309.26,195.80 310.01,194.60 310.76,193.37 311.50,192.11 312.25,190.84 313.00,189.55 313.74,188.26 314.49,186.97 315.24,185.69 315.98,184.42 316.73,183.17 317.48,181.94 318.22,180.74 318.97,179.58 319.72,178.46 320.46,177.37 321.21,176.34 321.95,175.34 322.70,174.40 323.45,173.51 324.19,172.66 324.94,171.87 325.69,171.12 326.43,170.42 327.18,169.77 327.93,169.16 328.67,168.59 329.42,168.07 330.17,167.58 330.91,167.13 331.66,166.72 332.41,166.34 333.15,165.99 333.90,165.67 334.65,165.37 335.39,165.10 336.14,164.86 336.89,164.63 337.63,164.43 338.38,164.24 339.13,164.07 339.87,163.91 340.62,163.77 341.36,163.64 342.11,163.52 342.86,163.41 343.60,163.31 344.35,163.23 345.10,163.15 345.84,163.07" fill="none" stroke="#e8262a" stroke-width="1.15"/>
<line x1="256.26" y1="216.75" x2="256.26" y2="211.52" stroke="#e8262a" stroke-width="0.7" />
<line x1="254.81" y1="216.75" x2="257.71" y2="216.75" stroke="#e8262a" stroke-width="0.7" />
<line x1="254.81" y1="211.52" x2="257.71" y2="211.52" stroke="#e8262a" stroke-width="0.7" />
<circle cx="256.26" cy="214.14" r="1.30" fill="#e8262a"/>
<line x1="269.14" y1="217.54" x2="269.14" y2="212.31" stroke="#e8262a" stroke-width="0.7" />
<line x1="267.69" y1="217.54" x2="270.59" y2="217.54" stroke="#e8262a" stroke-width="0.7" />
<line x1="267.69" y1="212.31" x2="270.59" y2="212.31" stroke="#e8262a" stroke-width="0.7" />
<circle cx="269.14" cy="214.92" r="1.30" fill="#e8262a"/>
<line x1="281.75" y1="217.02" x2="281.75" y2="213.88" stroke="#e8262a" stroke-width="0.7" />
<line x1="280.30" y1="217.02" x2="283.20" y2="217.02" stroke="#e8262a" stroke-width="0.7" />
<line x1="280.30" y1="213.88" x2="283.20" y2="213.88" stroke="#e8262a" stroke-width="0.7" />
<circle cx="281.75" cy="215.45" r="1.30" fill="#e8262a"/>
<line x1="294.63" y1="210.74" x2="294.63" y2="208.65" stroke="#e8262a" stroke-width="0.7" />
<line x1="293.18" y1="210.74" x2="296.08" y2="210.74" stroke="#e8262a" stroke-width="0.7" />
<line x1="293.18" y1="208.65" x2="296.08" y2="208.65" stroke="#e8262a" stroke-width="0.7" />
<circle cx="294.63" cy="209.69" r="1.30" fill="#e8262a"/>
<line x1="307.42" y1="201.59" x2="307.42" y2="198.45" stroke="#e8262a" stroke-width="0.7" />
<line x1="305.97" y1="201.59" x2="308.87" y2="201.59" stroke="#e8262a" stroke-width="0.7" />
<line x1="305.97" y1="198.45" x2="308.87" y2="198.45" stroke="#e8262a" stroke-width="0.7" />
<circle cx="307.42" cy="200.02" r="1.30" fill="#e8262a"/>
<line x1="320.25" y1="178.52" x2="320.25" y2="175.38" stroke="#e8262a" stroke-width="0.7" />
<line x1="318.80" y1="178.52" x2="321.70" y2="178.52" stroke="#e8262a" stroke-width="0.7" />
<line x1="318.80" y1="175.38" x2="321.70" y2="175.38" stroke="#e8262a" stroke-width="0.7" />
<circle cx="320.25" cy="176.95" r="1.30" fill="#e8262a"/>
<circle cx="333.05" cy="165.76" r="1.30" fill="#e8262a"/>
<circle cx="345.84" cy="163.15" r="1.30" fill="#e8262a"/>
<line x1="358.30" y1="181.20" x2="365.80" y2="181.20" stroke="#e8262a" stroke-width="0.9" />
<circle cx="362.05" cy="181.20" r="1.10" fill="#e8262a"/>
<text x="369.20" y="183.20" font-size="5.35" text-anchor="start" font-weight="normal" fill="#1a1a1a" >A14</text>
<text x="401.40" y="151.90" font-size="6.8" text-anchor="start" font-weight="normal" fill="#1a1a1a" >SARS-CoV-2 XBB.1 pseudovirus neutralization</text>
<line x1="411.60" y1="163.00" x2="411.60" y2="235.66" stroke="#2a2a2a" stroke-width="0.9" />
<line x1="408.70" y1="163.00" x2="411.60" y2="163.00" stroke="#2a2a2a" stroke-width="0.8" />
<text transform="translate(407.30,165.25) scale(1,1.12)" font-size="5.6" text-anchor="end" font-weight="bold" fill="#1a1a1a" >100</text>
<line x1="408.70" y1="173.38" x2="411.60" y2="173.38" stroke="#2a2a2a" stroke-width="0.8" />
<text transform="translate(407.30,175.63) scale(1,1.12)" font-size="5.6" text-anchor="end" font-weight="bold" fill="#1a1a1a" >80</text>
<line x1="408.70" y1="183.76" x2="411.60" y2="183.76" stroke="#2a2a2a" stroke-width="0.8" />
<text transform="translate(407.30,186.01) scale(1,1.12)" font-size="5.6" text-anchor="end" font-weight="bold" fill="#1a1a1a" >60</text>
<line x1="408.70" y1="194.14" x2="411.60" y2="194.14" stroke="#2a2a2a" stroke-width="0.8" />
<text transform="translate(407.30,196.39) scale(1,1.12)" font-size="5.6" text-anchor="end" font-weight="bold" fill="#1a1a1a" >40</text>
<line x1="408.70" y1="204.52" x2="411.60" y2="204.52" stroke="#2a2a2a" stroke-width="0.8" />
<text transform="translate(407.30,206.77) scale(1,1.12)" font-size="5.6" text-anchor="end" font-weight="bold" fill="#1a1a1a" >20</text>
<line x1="408.70" y1="214.90" x2="411.60" y2="214.90" stroke="#2a2a2a" stroke-width="0.8" />
<text transform="translate(407.30,217.15) scale(1,1.12)" font-size="5.6" text-anchor="end" font-weight="bold" fill="#1a1a1a" >0</text>
<line x1="408.70" y1="225.28" x2="411.60" y2="225.28" stroke="#2a2a2a" stroke-width="0.8" />
<text transform="translate(407.30,227.53) scale(1,1.12)" font-size="5.6" text-anchor="end" font-weight="bold" fill="#1a1a1a" >-20</text>
<line x1="408.70" y1="235.66" x2="411.60" y2="235.66" stroke="#2a2a2a" stroke-width="0.8" />
<text transform="translate(407.30,237.91) scale(1,1.12)" font-size="5.6" text-anchor="end" font-weight="bold" fill="#1a1a1a" >-40</text>
<line x1="411.60" y1="235.66" x2="519.32" y2="235.66" stroke="#2a2a2a" stroke-width="0.9" />
<line x1="411.60" y1="235.66" x2="411.60" y2="238.16" stroke="#2a2a2a" stroke-width="0.8" />
<text transform="translate(411.00,244.00) scale(1,1.12)" font-size="5.6" text-anchor="middle" font-weight="bold" fill="#1a1a1a" >-3</text>
<line x1="438.53" y1="235.66" x2="438.53" y2="238.16" stroke="#2a2a2a" stroke-width="0.8" />
<text transform="translate(437.93,244.00) scale(1,1.12)" font-size="5.6" text-anchor="middle" font-weight="bold" fill="#1a1a1a" >-2</text>
<line x1="465.46" y1="235.66" x2="465.46" y2="238.16" stroke="#2a2a2a" stroke-width="0.8" />
<text transform="translate(464.86,244.00) scale(1,1.12)" font-size="5.6" text-anchor="middle" font-weight="bold" fill="#1a1a1a" >-1</text>
<line x1="492.39" y1="235.66" x2="492.39" y2="238.16" stroke="#2a2a2a" stroke-width="0.8" />
<text transform="translate(491.79,244.00) scale(1,1.12)" font-size="5.6" text-anchor="middle" font-weight="bold" fill="#1a1a1a" >0</text>
<line x1="519.32" y1="235.66" x2="519.32" y2="238.16" stroke="#2a2a2a" stroke-width="0.8" />
<text transform="translate(518.72,244.00) scale(1,1.12)" font-size="5.6" text-anchor="middle" font-weight="bold" fill="#1a1a1a" >1</text>
<line x1="411.60" y1="214.90" x2="519.32" y2="214.90" stroke="#333" stroke-width="0.75" stroke-dasharray="0.9 1.0"/>
<text transform="translate(397.50,199.33) rotate(-90)" font-size="6.3" font-weight="bold" text-anchor="middle" fill="#1a1a1a">Neutralization (%)</text>
<text x="418.00" y="253.10" font-size="6.25" font-weight="bold" fill="#1a1a1a">Log<tspan font-size="4.4" dx="0.2" dy="0.9">10</tspan><tspan dx="0.5" dy="-0.9">VHH concentration (μg/mL)</tspan></text>
<polyline points="421.29,214.83 422.04,214.82 422.79,214.82 423.54,214.81 424.29,214.80 425.04,214.79 425.79,214.78 426.54,214.77 427.29,214.75 428.04,214.74 428.79,214.72 429.54,214.70 430.29,214.68 431.04,214.66 431.79,214.64 432.53,214.61 433.28,214.58 434.03,214.55 434.78,214.52 435.53,214.48 436.28,214.44 437.03,214.39 437.78,214.34 438.53,214.28 439.28,214.22 440.03,214.15 440.78,214.08 441.53,214.00 442.28,213.91 443.03,213.81 443.77,213.71 444.52,213.59 445.27,213.46 446.02,213.32 446.77,213.16 447.52,213.00 448.27,212.81 449.02,212.61 449.77,212.39 450.52,212.15 451.27,211.89 452.02,211.60 452.77,211.30 453.52,210.96 454.27,210.59 455.01,210.20 455.76,209.77 456.51,209.31 457.26,208.81 458.01,208.28 458.76,207.70 459.51,207.09 460.26,206.43 461.01,205.72 461.76,204.97 462.51,204.18 463.26,203.34 464.01,202.45 464.76,201.52 465.51,200.54 466.25,199.52 467.00,198.46 467.75,197.37 468.50,196.23 469.25,195.07 470.00,193.88 470.75,192.67 471.50,191.44 472.25,190.20 473.00,188.95 473.75,187.71 474.50,186.47 475.25,185.24 476.00,184.03 476.75,182.84 477.49,181.67 478.24,180.54 478.99,179.44 479.74,178.38 480.49,177.36 481.24,176.39 481.99,175.45 482.74,174.57 483.49,173.73 484.24,172.93 484.99,172.18 485.74,171.48 486.49,170.82 487.24,170.20 487.98,169.63 488.73,169.09 489.48,168.59 490.23,168.13 490.98,167.70 491.73,167.31 492.48,166.94 493.23,166.61 493.98,166.30 494.73,166.01 495.48,165.75 496.23,165.51 496.98,165.29 497.73,165.09 498.48,164.91 499.22,164.74 499.97,164.58 500.72,164.44 501.47,164.31 502.22,164.20 502.97,164.09 503.72,163.99 504.47,163.90 505.22,163.82 505.97,163.75 506.72,163.68 507.47,163.62 508.22,163.56 508.97,163.51 509.72,163.46 510.46,163.42 511.21,163.38" fill="none" stroke="#e8262a" stroke-width="1.15"/>
<circle cx="421.29" cy="215.11" r="1.30" fill="#e8262a"/>
<line x1="434.22" y1="216.56" x2="434.22" y2="212.41" stroke="#e8262a" stroke-width="0.7" />
<line x1="432.77" y1="216.56" x2="435.67" y2="216.56" stroke="#e8262a" stroke-width="0.7" />
<line x1="432.77" y1="212.41" x2="435.67" y2="212.41" stroke="#e8262a" stroke-width="0.7" />
<circle cx="434.22" cy="214.48" r="1.30" fill="#e8262a"/>
<line x1="446.88" y1="215.94" x2="446.88" y2="211.79" stroke="#e8262a" stroke-width="0.7" />
<line x1="445.43" y1="215.94" x2="448.33" y2="215.94" stroke="#e8262a" stroke-width="0.7" />
<line x1="445.43" y1="211.79" x2="448.33" y2="211.79" stroke="#e8262a" stroke-width="0.7" />
<circle cx="446.88" cy="213.86" r="1.30" fill="#e8262a"/>
<line x1="459.80" y1="206.08" x2="459.80" y2="201.93" stroke="#e8262a" stroke-width="0.7" />
<line x1="458.35" y1="206.08" x2="461.25" y2="206.08" stroke="#e8262a" stroke-width="0.7" />
<line x1="458.35" y1="201.93" x2="461.25" y2="201.93" stroke="#e8262a" stroke-width="0.7" />
<circle cx="459.80" cy="204.00" r="1.30" fill="#e8262a"/>
<line x1="472.65" y1="193.88" x2="472.65" y2="191.80" stroke="#e8262a" stroke-width="0.7" />
<line x1="471.20" y1="193.88" x2="474.10" y2="193.88" stroke="#e8262a" stroke-width="0.7" />
<line x1="471.20" y1="191.80" x2="474.10" y2="191.80" stroke="#e8262a" stroke-width="0.7" />
<circle cx="472.65" cy="192.84" r="1.30" fill="#e8262a"/>
<circle cx="485.52" cy="172.08" r="1.30" fill="#e8262a"/>
<circle cx="498.37" cy="165.08" r="1.30" fill="#e8262a"/>
<circle cx="511.21" cy="163.52" r="1.30" fill="#e8262a"/>
<line x1="521.70" y1="182.70" x2="529.20" y2="182.70" stroke="#e8262a" stroke-width="0.9" />
<circle cx="525.45" cy="182.70" r="1.10" fill="#e8262a"/>
<text x="533.30" y="184.70" font-size="5.35" text-anchor="start" font-weight="normal" fill="#1a1a1a" >A14</text>
<rect x="168.50" y="306.90" width="50.40" height="9.17" fill="#f3a0a1" />
<rect x="219.90" y="306.90" width="50.30" height="9.17" fill="#f3a0a1" />
<rect x="271.20" y="306.90" width="50.60" height="9.17" fill="#f3a0a1" />
<rect x="168.50" y="317.27" width="50.40" height="9.17" fill="#f3a0a1" />
<rect x="219.90" y="317.27" width="50.30" height="9.17" fill="#f3a0a1" />
<rect x="271.20" y="317.27" width="50.60" height="9.17" fill="#f3a0a1" />
<rect x="168.50" y="327.64" width="50.40" height="9.17" fill="#f3a0a1" />
<rect x="219.90" y="327.64" width="50.30" height="9.17" fill="#fad6d9" />
<rect x="271.20" y="327.64" width="50.60" height="9.17" fill="#f3a0a1" />
<rect x="168.50" y="338.01" width="50.40" height="9.17" fill="#ec1420" />
<rect x="219.90" y="338.01" width="50.30" height="9.17" fill="#f3a0a1" />
<rect x="168.50" y="348.38" width="50.40" height="9.17" fill="#fad6d9" />
<rect x="168.50" y="358.75" width="50.40" height="9.17" fill="#fad6d9" />
<rect x="219.90" y="358.75" width="50.30" height="9.17" fill="#fad6d9" />
<rect x="271.20" y="358.75" width="50.60" height="9.17" fill="#fad6d9" />
<rect x="168.50" y="369.12" width="50.40" height="9.17" fill="#ec1420" />
<rect x="219.90" y="369.12" width="50.30" height="9.17" fill="#ec1420" />
<rect x="271.20" y="369.12" width="50.60" height="9.17" fill="#f3a0a1" />
<rect x="322.80" y="369.12" width="50.50" height="9.17" fill="#f3a0a1" />
<rect x="374.30" y="369.12" width="50.50" height="9.17" fill="#f3a0a1" />
<text x="143.80" y="314.24" font-size="6.7" text-anchor="middle" font-weight="normal" fill="#1a1a1a" >A31</text>
<text x="193.70" y="314.24" font-size="6.7" text-anchor="middle" font-weight="normal" fill="#1a1a1a" >117.6 (8.78)</text>
<text x="245.05" y="314.24" font-size="6.7" text-anchor="middle" font-weight="normal" fill="#1a1a1a" >281.9 (21.04)</text>
<text x="296.50" y="314.24" font-size="6.7" text-anchor="middle" font-weight="normal" fill="#1a1a1a" >382.5 (28.54)</text>
<text x="348.05" y="314.24" font-size="6.7" text-anchor="middle" font-weight="normal" fill="#1a1a1a" >&gt;5000</text>
<text x="399.55" y="314.24" font-size="6.7" text-anchor="middle" font-weight="normal" fill="#1a1a1a" >&gt;5000</text>
<text x="143.80" y="324.61" font-size="6.7" text-anchor="middle" font-weight="normal" fill="#1a1a1a" >B13</text>
<text x="193.70" y="324.61" font-size="6.7" text-anchor="middle" font-weight="normal" fill="#1a1a1a" >218.2 (16.40)</text>
<text x="245.05" y="324.61" font-size="6.7" text-anchor="middle" font-weight="normal" fill="#1a1a1a" >254.7 (19.15)</text>
<text x="296.50" y="324.61" font-size="6.7" text-anchor="middle" font-weight="normal" fill="#1a1a1a" >463.1 (34.82)</text>
<text x="348.05" y="324.61" font-size="6.7" text-anchor="middle" font-weight="normal" fill="#1a1a1a" >&gt;5000</text>
<text x="399.55" y="324.61" font-size="6.7" text-anchor="middle" font-weight="normal" fill="#1a1a1a" >&gt;5000</text>
<text x="143.80" y="334.98" font-size="6.7" text-anchor="middle" font-weight="normal" fill="#1a1a1a" >B18</text>
<text x="193.70" y="334.98" font-size="6.7" text-anchor="middle" font-weight="normal" fill="#1a1a1a" >194.1 (14.59)</text>
<text x="245.05" y="334.98" font-size="6.7" text-anchor="middle" font-weight="normal" fill="#1a1a1a" >1026 (77.14)</text>
<text x="296.50" y="334.98" font-size="6.7" text-anchor="middle" font-weight="normal" fill="#1a1a1a" >492.7 (37.05)</text>
<text x="348.05" y="334.98" font-size="6.7" text-anchor="middle" font-weight="normal" fill="#1a1a1a" >&gt;5000</text>
<text x="399.55" y="334.98" font-size="6.7" text-anchor="middle" font-weight="normal" fill="#1a1a1a" >&gt;5000</text>
<text x="143.80" y="345.35" font-size="6.7" text-anchor="middle" font-weight="normal" fill="#1a1a1a" >D11</text>
<text x="193.70" y="345.35" font-size="6.7" text-anchor="middle" font-weight="normal" fill="#fff" >34.28 (2.62)</text>
<text x="245.05" y="345.35" font-size="6.7" text-anchor="middle" font-weight="normal" fill="#1a1a1a" >375.3 (28.65)</text>
<text x="296.50" y="345.35" font-size="6.7" text-anchor="middle" font-weight="normal" fill="#1a1a1a" >&gt;5000</text>
<text x="348.05" y="345.35" font-size="6.7" text-anchor="middle" font-weight="normal" fill="#1a1a1a" >&gt;5000</text>
<text x="399.55" y="345.35" font-size="6.7" text-anchor="middle" font-weight="normal" fill="#1a1a1a" >&gt;5000</text>
<text x="143.80" y="355.72" font-size="6.7" text-anchor="middle" font-weight="normal" fill="#1a1a1a" >B27</text>
<text x="193.70" y="355.72" font-size="6.7" text-anchor="middle" font-weight="normal" fill="#1a1a1a" >&gt;2000</text>
<text x="245.05" y="355.72" font-size="6.7" text-anchor="middle" font-weight="normal" fill="#1a1a1a" >&gt;5000</text>
<text x="296.50" y="355.72" font-size="6.7" text-anchor="middle" font-weight="normal" fill="#1a1a1a" >&gt;5000</text>
<text x="348.05" y="355.72" font-size="6.7" text-anchor="middle" font-weight="normal" fill="#1a1a1a" >&gt;5000</text>
<text x="399.55" y="355.72" font-size="6.7" text-anchor="middle" font-weight="normal" fill="#1a1a1a" >&gt;5000</text>
<text x="143.80" y="366.08" font-size="6.7" text-anchor="middle" font-weight="normal" fill="#1a1a1a" >C2</text>
<text x="193.70" y="366.08" font-size="6.7" text-anchor="middle" font-weight="normal" fill="#1a1a1a" >&gt;2000</text>
<text x="245.05" y="366.08" font-size="6.7" text-anchor="middle" font-weight="normal" fill="#1a1a1a" >&gt;2000</text>
<text x="296.50" y="366.08" font-size="6.7" text-anchor="middle" font-weight="normal" fill="#1a1a1a" >&gt;2000</text>
<text x="348.05" y="366.08" font-size="6.7" text-anchor="middle" font-weight="normal" fill="#1a1a1a" >&gt;5000</text>
<text x="399.55" y="366.08" font-size="6.7" text-anchor="middle" font-weight="normal" fill="#1a1a1a" >&gt;5000</text>
<text x="143.80" y="376.45" font-size="6.7" text-anchor="middle" font-weight="normal" fill="#1a1a1a" >A14</text>
<text x="193.70" y="376.45" font-size="6.7" text-anchor="middle" font-weight="normal" fill="#fff" >83.93 (5.49)</text>
<text x="245.05" y="376.45" font-size="6.7" text-anchor="middle" font-weight="normal" fill="#fff" >85.29 (5.57)</text>
<text x="296.50" y="376.45" font-size="6.7" text-anchor="middle" font-weight="normal" fill="#1a1a1a" >284.3 (18.58)</text>
<text x="348.05" y="376.45" font-size="6.7" text-anchor="middle" font-weight="normal" fill="#1a1a1a" >316.6 (20.69)</text>
<text x="399.55" y="376.45" font-size="6.7" text-anchor="middle" font-weight="normal" fill="#1a1a1a" >207.9 (13.59)</text>
<text x="143.80" y="386.82" font-size="6.7" text-anchor="middle" font-weight="normal" fill="#1a1a1a" >B20</text>
<text x="193.70" y="386.82" font-size="6.7" text-anchor="middle" font-weight="normal" fill="#1a1a1a" >&gt;5000</text>
<text x="245.05" y="386.82" font-size="6.7" text-anchor="middle" font-weight="normal" fill="#1a1a1a" >&gt;5000</text>
<text x="296.50" y="386.82" font-size="6.7" text-anchor="middle" font-weight="normal" fill="#1a1a1a" >&gt;5000</text>
<text x="348.05" y="386.82" font-size="6.7" text-anchor="middle" font-weight="normal" fill="#1a1a1a" >&gt;5000</text>
<text x="399.55" y="386.82" font-size="6.7" text-anchor="middle" font-weight="normal" fill="#1a1a1a" >&gt;5000</text>
<text x="143.80" y="397.19" font-size="6.7" text-anchor="middle" font-weight="normal" fill="#1a1a1a" >C8</text>
<text x="193.70" y="397.19" font-size="6.7" text-anchor="middle" font-weight="normal" fill="#1a1a1a" >&gt;5000</text>
<text x="245.05" y="397.19" font-size="6.7" text-anchor="middle" font-weight="normal" fill="#1a1a1a" >&gt;5000</text>
<text x="296.50" y="397.19" font-size="6.7" text-anchor="middle" font-weight="normal" fill="#1a1a1a" >&gt;5000</text>
<text x="348.05" y="397.19" font-size="6.7" text-anchor="middle" font-weight="normal" fill="#1a1a1a" >&gt;5000</text>
<text x="399.55" y="397.19" font-size="6.7" text-anchor="middle" font-weight="normal" fill="#1a1a1a" >&gt;5000</text>
<rect x="87.60" y="281.60" width="337.70" height="118.03" fill="none" stroke="#3a3a3a" stroke-width="0.9"/>
<line x1="119.60" y1="281.60" x2="119.60" y2="399.63" stroke="#3a3a3a" stroke-width="0.9" />
<line x1="168.00" y1="281.60" x2="168.00" y2="399.63" stroke="#3a3a3a" stroke-width="0.9" />
<line x1="219.40" y1="295.20" x2="219.40" y2="399.63" stroke="#3a3a3a" stroke-width="0.9" />
<line x1="270.70" y1="295.20" x2="270.70" y2="399.63" stroke="#3a3a3a" stroke-width="0.9" />
<line x1="322.30" y1="295.20" x2="322.30" y2="399.63" stroke="#3a3a3a" stroke-width="0.9" />
<line x1="373.80" y1="295.20" x2="373.80" y2="399.63" stroke="#3a3a3a" stroke-width="0.9" />
<line x1="168.00" y1="295.20" x2="425.30" y2="295.20" stroke="#3a3a3a" stroke-width="0.9" />
<line x1="87.60" y1="306.30" x2="425.30" y2="306.30" stroke="#3a3a3a" stroke-width="1.1" />
<line x1="119.60" y1="316.67" x2="425.30" y2="316.67" stroke="#3a3a3a" stroke-width="0.9" />
<line x1="119.60" y1="327.04" x2="425.30" y2="327.04" stroke="#3a3a3a" stroke-width="0.9" />
<line x1="119.60" y1="337.41" x2="425.30" y2="337.41" stroke="#3a3a3a" stroke-width="0.9" />
<line x1="87.60" y1="347.78" x2="425.30" y2="347.78" stroke="#3a3a3a" stroke-width="1.1" />
<line x1="119.60" y1="358.15" x2="425.30" y2="358.15" stroke="#3a3a3a" stroke-width="0.9" />
<line x1="87.60" y1="368.52" x2="425.30" y2="368.52" stroke="#3a3a3a" stroke-width="1.1" />
<line x1="87.60" y1="378.89" x2="425.30" y2="378.89" stroke="#3a3a3a" stroke-width="1.1" />
<line x1="87.60" y1="389.26" x2="425.30" y2="389.26" stroke="#3a3a3a" stroke-width="1.1" />
<text x="103.60" y="329.44" font-size="6.7" text-anchor="middle" font-weight="bold" fill="#1a1a1a" >A</text>
<text x="103.60" y="360.55" font-size="6.7" text-anchor="middle" font-weight="bold" fill="#1a1a1a" >B</text>
<text x="103.60" y="376.10" font-size="6.7" text-anchor="middle" font-weight="bold" fill="#1a1a1a" >C</text>
<text x="103.60" y="386.47" font-size="6.7" text-anchor="middle" font-weight="bold" fill="#1a1a1a" >D</text>
<text x="103.60" y="396.84" font-size="6.7" text-anchor="middle" font-weight="bold" fill="#1a1a1a" >E</text>
<text x="103.60" y="296.60" font-size="6.7" text-anchor="middle" font-weight="bold" fill="#1a1a1a" >Group</text>
<text x="143.80" y="296.60" font-size="6.7" text-anchor="middle" font-weight="bold" fill="#1a1a1a" >Nanobodies</text>
<text x="224.0" y="290.9" font-size="6.9" font-weight="bold" fill="#1a1a1a" style="white-space:pre">Pseudovirus  neutralization IC<tspan font-size="4.3" dy="1.3">50</tspan><tspan dy="-1.3">, ng/mL (nM)</tspan></text>
<text x="193.70" y="302.80" font-size="6.7" text-anchor="middle" font-weight="bold" fill="#1a1a1a" >WT</text>
<text x="245.05" y="302.80" font-size="6.7" text-anchor="middle" font-weight="bold" fill="#1a1a1a" >BA.1</text>
<text x="296.50" y="302.80" font-size="6.7" text-anchor="middle" font-weight="bold" fill="#1a1a1a" >BA.4/5</text>
<text x="348.05" y="302.80" font-size="6.7" text-anchor="middle" font-weight="bold" fill="#1a1a1a" >BQ.1.1</text>
<text x="399.55" y="302.80" font-size="6.7" text-anchor="middle" font-weight="bold" fill="#1a1a1a" >XBB.1</text>
<rect x="134.80" y="405.80" width="35.40" height="6.40" fill="#ec1420" />
<rect x="171.80" y="405.80" width="35.40" height="6.40" fill="#f3a0a1" />
<rect x="208.80" y="405.80" width="36.00" height="6.40" fill="#fad6d9" />
<rect x="87.60" y="405.00" width="194.40" height="8.00" fill="none" stroke="#3a3a3a" stroke-width="0.7"/>
<line x1="134.00" y1="405.00" x2="134.00" y2="413.00" stroke="#3a3a3a" stroke-width="0.7" />
<line x1="171.00" y1="405.00" x2="171.00" y2="413.00" stroke="#3a3a3a" stroke-width="0.7" />
<line x1="208.00" y1="405.00" x2="208.00" y2="413.00" stroke="#3a3a3a" stroke-width="0.7" />
<line x1="245.60" y1="405.00" x2="245.60" y2="413.00" stroke="#3a3a3a" stroke-width="0.7" />
<text x="110.80" y="410.75" font-size="5.15" text-anchor="middle" fill="#1a1a1a">IC<tspan font-size="3.2" dy="1">50</tspan><tspan dy="-1"> (ng/mL)</tspan></text>
<text x="152.50" y="410.75" font-size="5.15" text-anchor="middle" font-weight="normal" fill="#fff" >10–100</text>
<text x="189.50" y="410.75" font-size="5.15" text-anchor="middle" font-weight="normal" fill="#1a1a1a" >100–1000</text>
<text x="226.80" y="410.75" font-size="5.15" text-anchor="middle" font-weight="normal" fill="#1a1a1a" >1000–5000</text>
<text x="263.80" y="410.75" font-size="5.15" text-anchor="middle" font-weight="normal" fill="#1a1a1a" >&gt;5000</text>
</svg></body></html>
